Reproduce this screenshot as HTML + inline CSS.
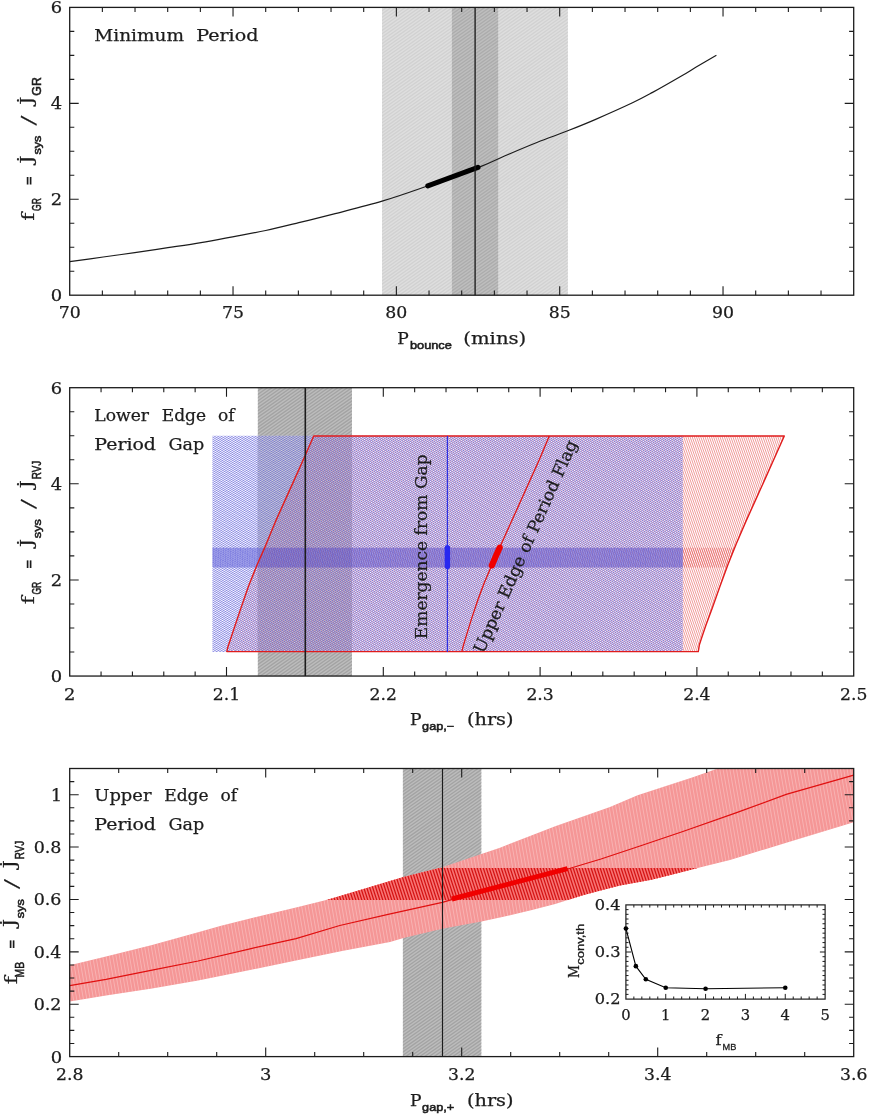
<!DOCTYPE html>
<html lang="en"><head><meta charset="utf-8"><title>Period bounce and period gap constraints</title>
<style>html,body{margin:0;padding:0;background:#fff}body{width:869px;height:1114px;overflow:hidden}svg{display:block}.sf{font-family:"DejaVu Serif", "Liberation Serif", serif;stroke:#1c1c1c;stroke-width:0.25px}.ss{font-family:"Liberation Sans", "DejaVu Sans", sans-serif;stroke:#1c1c1c;stroke-width:0.55px}</style></head><body>
<svg width="869" height="1114" viewBox="0 0 869 1114">
<rect width="869" height="1114" fill="#fff"/>
<rect x="381.99" y="7.4" width="185.87" height="287.8" fill="#dedede"/>
<clipPath id="c1"><rect x="381.99" y="7.4" width="185.87" height="287.8"/></clipPath>
<path clip-path="url(#c1)" d="M246.0 102.7l261.6 -183.2M247.5 104.9l261.6 -183.2M249.0 107.1l261.6 -183.2M250.6 109.3l261.6 -183.2M252.1 111.5l261.6 -183.2M253.7 113.7l261.6 -183.2M255.2 115.9l261.6 -183.2M256.8 118.1l261.6 -183.2M258.3 120.4l261.6 -183.2M259.9 122.6l261.6 -183.2M261.4 124.8l261.6 -183.2M263.0 127.0l261.6 -183.2M264.5 129.2l261.6 -183.2M266.1 131.4l261.6 -183.2M267.6 133.6l261.6 -183.2M269.2 135.8l261.6 -183.2M270.7 138.0l261.6 -183.2M272.3 140.3l261.6 -183.2M273.8 142.5l261.6 -183.2M275.4 144.7l261.6 -183.2M276.9 146.9l261.6 -183.2M278.5 149.1l261.6 -183.2M280.0 151.3l261.6 -183.2M281.6 153.5l261.6 -183.2M283.1 155.7l261.6 -183.2M284.7 157.9l261.6 -183.2M286.2 160.2l261.6 -183.2M287.8 162.4l261.6 -183.2M289.3 164.6l261.6 -183.2M290.9 166.8l261.6 -183.2M292.4 169.0l261.6 -183.2M294.0 171.2l261.6 -183.2M295.5 173.4l261.6 -183.2M297.1 175.6l261.6 -183.2M298.6 177.9l261.6 -183.2M300.2 180.1l261.6 -183.2M301.7 182.3l261.6 -183.2M303.3 184.5l261.6 -183.2M304.8 186.7l261.6 -183.2M306.4 188.9l261.6 -183.2M307.9 191.1l261.6 -183.2M309.4 193.3l261.6 -183.2M311.0 195.5l261.6 -183.2M312.5 197.8l261.6 -183.2M314.1 200.0l261.6 -183.2M315.6 202.2l261.6 -183.2M317.2 204.4l261.6 -183.2M318.7 206.6l261.6 -183.2M320.3 208.8l261.6 -183.2M321.8 211.0l261.6 -183.2M323.4 213.2l261.6 -183.2M324.9 215.5l261.6 -183.2M326.5 217.7l261.6 -183.2M328.0 219.9l261.6 -183.2M329.6 222.1l261.6 -183.2M331.1 224.3l261.6 -183.2M332.7 226.5l261.6 -183.2M334.2 228.7l261.6 -183.2M335.8 230.9l261.6 -183.2M337.3 233.1l261.6 -183.2M338.9 235.4l261.6 -183.2M340.4 237.6l261.6 -183.2M342.0 239.8l261.6 -183.2M343.5 242.0l261.6 -183.2M345.1 244.2l261.6 -183.2M346.6 246.4l261.6 -183.2M348.2 248.6l261.6 -183.2M349.7 250.8l261.6 -183.2M351.3 253.1l261.6 -183.2M352.8 255.3l261.6 -183.2M354.4 257.5l261.6 -183.2M355.9 259.7l261.6 -183.2M357.5 261.9l261.6 -183.2M359.0 264.1l261.6 -183.2M360.6 266.3l261.6 -183.2M362.1 268.5l261.6 -183.2M363.7 270.7l261.6 -183.2M365.2 273.0l261.6 -183.2M366.7 275.2l261.6 -183.2M368.3 277.4l261.6 -183.2M369.8 279.6l261.6 -183.2M371.4 281.8l261.6 -183.2M372.9 284.0l261.6 -183.2M374.5 286.2l261.6 -183.2M376.0 288.4l261.6 -183.2M377.6 290.7l261.6 -183.2M379.1 292.9l261.6 -183.2M380.7 295.1l261.6 -183.2M382.2 297.3l261.6 -183.2M383.8 299.5l261.6 -183.2M385.3 301.7l261.6 -183.2M386.9 303.9l261.6 -183.2M388.4 306.1l261.6 -183.2M390.0 308.3l261.6 -183.2M391.5 310.6l261.6 -183.2M393.1 312.8l261.6 -183.2M394.6 315.0l261.6 -183.2M396.2 317.2l261.6 -183.2M397.7 319.4l261.6 -183.2M399.3 321.6l261.6 -183.2M400.8 323.8l261.6 -183.2M402.4 326.0l261.6 -183.2M403.9 328.3l261.6 -183.2M405.5 330.5l261.6 -183.2M407.0 332.7l261.6 -183.2M408.6 334.9l261.6 -183.2M410.1 337.1l261.6 -183.2M411.7 339.3l261.6 -183.2M413.2 341.5l261.6 -183.2M414.8 343.7l261.6 -183.2M416.3 345.9l261.6 -183.2M417.9 348.2l261.6 -183.2M419.4 350.4l261.6 -183.2M421.0 352.6l261.6 -183.2M422.5 354.8l261.6 -183.2M424.0 357.0l261.6 -183.2M425.6 359.2l261.6 -183.2M427.1 361.4l261.6 -183.2M428.7 363.6l261.6 -183.2M430.2 365.9l261.6 -183.2M431.8 368.1l261.6 -183.2M433.3 370.3l261.6 -183.2M434.9 372.5l261.6 -183.2M436.4 374.7l261.6 -183.2M438.0 376.9l261.6 -183.2M439.5 379.1l261.6 -183.2M441.1 381.3l261.6 -183.2" stroke="#d1d1d1" stroke-width="1.3" stroke-opacity="1" fill="none"/>
<rect x="451.9" y="7.4" width="46.22" height="287.8" fill="#bebebe"/>
<clipPath id="c2"><rect x="451.9" y="7.4" width="46.22" height="287.8"/></clipPath>
<path clip-path="url(#c2)" d="M315.9 102.7l167.9 -117.5M317.4 104.9l167.9 -117.5M319.0 107.1l167.9 -117.5M320.5 109.3l167.9 -117.5M322.1 111.5l167.9 -117.5M323.6 113.7l167.9 -117.5M325.2 115.9l167.9 -117.5M326.7 118.1l167.9 -117.5M328.2 120.4l167.9 -117.5M329.8 122.6l167.9 -117.5M331.3 124.8l167.9 -117.5M332.9 127.0l167.9 -117.5M334.4 129.2l167.9 -117.5M336.0 131.4l167.9 -117.5M337.5 133.6l167.9 -117.5M339.1 135.8l167.9 -117.5M340.6 138.0l167.9 -117.5M342.2 140.3l167.9 -117.5M343.7 142.5l167.9 -117.5M345.3 144.7l167.9 -117.5M346.8 146.9l167.9 -117.5M348.4 149.1l167.9 -117.5M349.9 151.3l167.9 -117.5M351.5 153.5l167.9 -117.5M353.0 155.7l167.9 -117.5M354.6 157.9l167.9 -117.5M356.1 160.2l167.9 -117.5M357.7 162.4l167.9 -117.5M359.2 164.6l167.9 -117.5M360.8 166.8l167.9 -117.5M362.3 169.0l167.9 -117.5M363.9 171.2l167.9 -117.5M365.4 173.4l167.9 -117.5M367.0 175.6l167.9 -117.5M368.5 177.9l167.9 -117.5M370.1 180.1l167.9 -117.5M371.6 182.3l167.9 -117.5M373.2 184.5l167.9 -117.5M374.7 186.7l167.9 -117.5M376.3 188.9l167.9 -117.5M377.8 191.1l167.9 -117.5M379.4 193.3l167.9 -117.5M380.9 195.5l167.9 -117.5M382.5 197.8l167.9 -117.5M384.0 200.0l167.9 -117.5M385.5 202.2l167.9 -117.5M387.1 204.4l167.9 -117.5M388.6 206.6l167.9 -117.5M390.2 208.8l167.9 -117.5M391.7 211.0l167.9 -117.5M393.3 213.2l167.9 -117.5M394.8 215.5l167.9 -117.5M396.4 217.7l167.9 -117.5M397.9 219.9l167.9 -117.5M399.5 222.1l167.9 -117.5M401.0 224.3l167.9 -117.5M402.6 226.5l167.9 -117.5M404.1 228.7l167.9 -117.5M405.7 230.9l167.9 -117.5M407.2 233.1l167.9 -117.5M408.8 235.4l167.9 -117.5M410.3 237.6l167.9 -117.5M411.9 239.8l167.9 -117.5M413.4 242.0l167.9 -117.5M415.0 244.2l167.9 -117.5M416.5 246.4l167.9 -117.5M418.1 248.6l167.9 -117.5M419.6 250.8l167.9 -117.5M421.2 253.1l167.9 -117.5M422.7 255.3l167.9 -117.5M424.3 257.5l167.9 -117.5M425.8 259.7l167.9 -117.5M427.4 261.9l167.9 -117.5M428.9 264.1l167.9 -117.5M430.5 266.3l167.9 -117.5M432.0 268.5l167.9 -117.5M433.6 270.7l167.9 -117.5M435.1 273.0l167.9 -117.5M436.7 275.2l167.9 -117.5M438.2 277.4l167.9 -117.5M439.8 279.6l167.9 -117.5M441.3 281.8l167.9 -117.5M442.8 284.0l167.9 -117.5M444.4 286.2l167.9 -117.5M445.9 288.4l167.9 -117.5M447.5 290.7l167.9 -117.5M449.0 292.9l167.9 -117.5M450.6 295.1l167.9 -117.5M452.1 297.3l167.9 -117.5M453.7 299.5l167.9 -117.5M455.2 301.7l167.9 -117.5M456.8 303.9l167.9 -117.5M458.3 306.1l167.9 -117.5M459.9 308.3l167.9 -117.5M461.4 310.6l167.9 -117.5M463.0 312.8l167.9 -117.5M464.5 315.0l167.9 -117.5M466.1 317.2l167.9 -117.5" stroke="#acacac" stroke-width="1.3" stroke-opacity="1" fill="none"/>
<path d="M69.7 261.6C75.28 260.83 92.35 258.5 103.2 257C114.05 255.5 124.02 254.15 134.8 252.6C145.58 251.05 156.87 249.37 167.9 247.7C178.93 246.03 190.22 244.42 201 242.6C211.78 240.78 221.82 238.82 232.6 236.8C243.38 234.78 254.67 232.85 265.7 230.5C276.73 228.15 287.55 225.43 298.8 222.7C310.05 219.97 319.32 217.68 333.2 214.1C347.08 210.52 366.77 205.75 382.1 201.2C397.43 196.65 408.9 192.52 425.2 186.8C441.5 181.08 465.98 172.33 479.9 166.9C493.82 161.47 499.1 158.32 508.7 154.2C518.3 150.08 527.67 146.1 537.5 142.2C547.33 138.3 558.1 134.57 567.7 130.8C577.3 127.03 584.3 124.27 595.1 119.6C605.9 114.93 622.92 107.33 632.5 102.8C642.08 98.27 644.45 96.87 652.6 92.4C660.75 87.93 674.2 80.18 681.4 76C688.6 71.82 689.97 70.75 695.8 67.3C701.63 63.85 712.97 57.3 716.4 55.3" fill="none" stroke="#1c1c1c" stroke-width="1.2" stroke-linejoin="round"/>
<path d="M427.8 185.9L478 167.4" fill="none" stroke="#000" stroke-width="5" stroke-linecap="round"/>
<line x1="475.1" y1="7.4" x2="475.1" y2="295.2" stroke="#1c1c1c" stroke-width="1.35"/>
<path d="M102.37 295.2v-4.6M102.37 7.4v4.6M135.03 295.2v-4.6M135.03 7.4v4.6M167.7 295.2v-4.6M167.7 7.4v4.6M200.37 295.2v-4.6M200.37 7.4v4.6M233.03 295.2v-9M233.03 7.4v9M265.7 295.2v-4.6M265.7 7.4v4.6M298.37 295.2v-4.6M298.37 7.4v4.6M331.03 295.2v-4.6M331.03 7.4v4.6M363.7 295.2v-4.6M363.7 7.4v4.6M396.37 295.2v-9M396.37 7.4v9M429.03 295.2v-4.6M429.03 7.4v4.6M461.7 295.2v-4.6M461.7 7.4v4.6M494.37 295.2v-4.6M494.37 7.4v4.6M527.03 295.2v-4.6M527.03 7.4v4.6M559.7 295.2v-9M559.7 7.4v9M592.37 295.2v-4.6M592.37 7.4v4.6M625.03 295.2v-4.6M625.03 7.4v4.6M657.7 295.2v-4.6M657.7 7.4v4.6M690.37 295.2v-4.6M690.37 7.4v4.6M723.03 295.2v-9M723.03 7.4v9M755.7 295.2v-4.6M755.7 7.4v4.6M788.37 295.2v-4.6M788.37 7.4v4.6M821.03 295.2v-4.6M821.03 7.4v4.6M69.7 271.22h4.6M853.7 271.22h-4.6M69.7 247.23h4.6M853.7 247.23h-4.6M69.7 223.25h4.6M853.7 223.25h-4.6M69.7 199.27h9M853.7 199.27h-9M69.7 175.28h4.6M853.7 175.28h-4.6M69.7 151.3h4.6M853.7 151.3h-4.6M69.7 127.32h4.6M853.7 127.32h-4.6M69.7 103.33h9M853.7 103.33h-9M69.7 79.35h4.6M853.7 79.35h-4.6M69.7 55.37h4.6M853.7 55.37h-4.6M69.7 31.38h4.6M853.7 31.38h-4.6" stroke="#1c1c1c" stroke-width="1.1" fill="none"/>
<rect x="69.7" y="7.4" width="784" height="287.8" fill="none" stroke="#1c1c1c" stroke-width="1.3"/>
<rect x="257.86" y="387.7" width="94.08" height="288.35" fill="#bcbcbc"/>
<clipPath id="c3"><rect x="257.86" y="387.7" width="94.08" height="288.35"/></clipPath>
<path clip-path="url(#c3)" d="M121.6 483.1l200.2 -140.2M123.1 485.3l200.2 -140.2M124.7 487.6l200.2 -140.2M126.2 489.8l200.2 -140.2M127.8 492.0l200.2 -140.2M129.3 494.2l200.2 -140.2M130.9 496.4l200.2 -140.2M132.4 498.6l200.2 -140.2M133.9 500.8l200.2 -140.2M135.5 503.0l200.2 -140.2M137.0 505.3l200.2 -140.2M138.6 507.5l200.2 -140.2M140.1 509.7l200.2 -140.2M141.7 511.9l200.2 -140.2M143.2 514.1l200.2 -140.2M144.8 516.3l200.2 -140.2M146.3 518.5l200.2 -140.2M147.9 520.7l200.2 -140.2M149.4 522.9l200.2 -140.2M151.0 525.2l200.2 -140.2M152.5 527.4l200.2 -140.2M154.1 529.6l200.2 -140.2M155.6 531.8l200.2 -140.2M157.2 534.0l200.2 -140.2M158.7 536.2l200.2 -140.2M160.3 538.4l200.2 -140.2M161.8 540.6l200.2 -140.2M163.4 542.9l200.2 -140.2M164.9 545.1l200.2 -140.2M166.5 547.3l200.2 -140.2M168.0 549.5l200.2 -140.2M169.6 551.7l200.2 -140.2M171.1 553.9l200.2 -140.2M172.7 556.1l200.2 -140.2M174.2 558.3l200.2 -140.2M175.8 560.5l200.2 -140.2M177.3 562.8l200.2 -140.2M178.9 565.0l200.2 -140.2M180.4 567.2l200.2 -140.2M182.0 569.4l200.2 -140.2M183.5 571.6l200.2 -140.2M185.1 573.8l200.2 -140.2M186.6 576.0l200.2 -140.2M188.2 578.2l200.2 -140.2M189.7 580.5l200.2 -140.2M191.3 582.7l200.2 -140.2M192.8 584.9l200.2 -140.2M194.3 587.1l200.2 -140.2M195.9 589.3l200.2 -140.2M197.4 591.5l200.2 -140.2M199.0 593.7l200.2 -140.2M200.5 595.9l200.2 -140.2M202.1 598.1l200.2 -140.2M203.6 600.4l200.2 -140.2M205.2 602.6l200.2 -140.2M206.7 604.8l200.2 -140.2M208.3 607.0l200.2 -140.2M209.8 609.2l200.2 -140.2M211.4 611.4l200.2 -140.2M212.9 613.6l200.2 -140.2M214.5 615.8l200.2 -140.2M216.0 618.1l200.2 -140.2M217.6 620.3l200.2 -140.2M219.1 622.5l200.2 -140.2M220.7 624.7l200.2 -140.2M222.2 626.9l200.2 -140.2M223.8 629.1l200.2 -140.2M225.3 631.3l200.2 -140.2M226.9 633.5l200.2 -140.2M228.4 635.7l200.2 -140.2M230.0 638.0l200.2 -140.2M231.5 640.2l200.2 -140.2M233.1 642.4l200.2 -140.2M234.6 644.6l200.2 -140.2M236.2 646.8l200.2 -140.2M237.7 649.0l200.2 -140.2M239.3 651.2l200.2 -140.2M240.8 653.4l200.2 -140.2M242.4 655.7l200.2 -140.2M243.9 657.9l200.2 -140.2M245.5 660.1l200.2 -140.2M247.0 662.3l200.2 -140.2M248.6 664.5l200.2 -140.2M250.1 666.7l200.2 -140.2M251.6 668.9l200.2 -140.2M253.2 671.1l200.2 -140.2M254.7 673.3l200.2 -140.2M256.3 675.6l200.2 -140.2M257.8 677.8l200.2 -140.2M259.4 680.0l200.2 -140.2M260.9 682.2l200.2 -140.2M262.5 684.4l200.2 -140.2M264.0 686.6l200.2 -140.2M265.6 688.8l200.2 -140.2M267.1 691.0l200.2 -140.2M268.7 693.3l200.2 -140.2M270.2 695.5l200.2 -140.2M271.8 697.7l200.2 -140.2M273.3 699.9l200.2 -140.2M274.9 702.1l200.2 -140.2M276.4 704.3l200.2 -140.2M278.0 706.5l200.2 -140.2M279.5 708.7l200.2 -140.2M281.1 710.9l200.2 -140.2M282.6 713.2l200.2 -140.2M284.2 715.4l200.2 -140.2M285.7 717.6l200.2 -140.2M287.3 719.8l200.2 -140.2" stroke="#a3a3a3" stroke-width="1.3" stroke-opacity="1" fill="none"/>
<rect x="257.86" y="435.76" width="94.08" height="216.26" fill="#d6d6d6"/>
<clipPath id="c4"><rect x="257.86" y="435.76" width="94.08" height="216.26"/></clipPath>
<path clip-path="url(#c4)" d="M155.4 507.5l166.4 -116.5M157.0 509.7l166.4 -116.5M158.5 511.9l166.4 -116.5M160.1 514.1l166.4 -116.5M161.6 516.3l166.4 -116.5M163.2 518.5l166.4 -116.5M164.7 520.8l166.4 -116.5M166.3 523.0l166.4 -116.5M167.8 525.2l166.4 -116.5M169.4 527.4l166.4 -116.5M170.9 529.6l166.4 -116.5M172.5 531.8l166.4 -116.5M174.0 534.0l166.4 -116.5M175.6 536.2l166.4 -116.5M177.1 538.4l166.4 -116.5M178.7 540.7l166.4 -116.5M180.2 542.9l166.4 -116.5M181.8 545.1l166.4 -116.5M183.3 547.3l166.4 -116.5M184.9 549.5l166.4 -116.5M186.4 551.7l166.4 -116.5M188.0 553.9l166.4 -116.5M189.5 556.1l166.4 -116.5M191.0 558.3l166.4 -116.5M192.6 560.6l166.4 -116.5M194.1 562.8l166.4 -116.5M195.7 565.0l166.4 -116.5M197.2 567.2l166.4 -116.5M198.8 569.4l166.4 -116.5M200.3 571.6l166.4 -116.5M201.9 573.8l166.4 -116.5M203.4 576.0l166.4 -116.5M205.0 578.3l166.4 -116.5M206.5 580.5l166.4 -116.5M208.1 582.7l166.4 -116.5M209.6 584.9l166.4 -116.5M211.2 587.1l166.4 -116.5M212.7 589.3l166.4 -116.5M214.3 591.5l166.4 -116.5M215.8 593.7l166.4 -116.5M217.4 595.9l166.4 -116.5M218.9 598.2l166.4 -116.5M220.5 600.4l166.4 -116.5M222.0 602.6l166.4 -116.5M223.6 604.8l166.4 -116.5M225.1 607.0l166.4 -116.5M226.7 609.2l166.4 -116.5M228.2 611.4l166.4 -116.5M229.8 613.6l166.4 -116.5M231.3 615.9l166.4 -116.5M232.9 618.1l166.4 -116.5M234.4 620.3l166.4 -116.5M236.0 622.5l166.4 -116.5M237.5 624.7l166.4 -116.5M239.1 626.9l166.4 -116.5M240.6 629.1l166.4 -116.5M242.2 631.3l166.4 -116.5M243.7 633.5l166.4 -116.5M245.3 635.8l166.4 -116.5M246.8 638.0l166.4 -116.5M248.4 640.2l166.4 -116.5M249.9 642.4l166.4 -116.5M251.4 644.6l166.4 -116.5M253.0 646.8l166.4 -116.5M254.5 649.0l166.4 -116.5M256.1 651.2l166.4 -116.5M257.6 653.5l166.4 -116.5M259.2 655.7l166.4 -116.5M260.7 657.9l166.4 -116.5M262.3 660.1l166.4 -116.5M263.8 662.3l166.4 -116.5M265.4 664.5l166.4 -116.5M266.9 666.7l166.4 -116.5M268.5 668.9l166.4 -116.5M270.0 671.1l166.4 -116.5M271.6 673.4l166.4 -116.5M273.1 675.6l166.4 -116.5M274.7 677.8l166.4 -116.5M276.2 680.0l166.4 -116.5M277.8 682.2l166.4 -116.5M279.3 684.4l166.4 -116.5M280.9 686.6l166.4 -116.5M282.4 688.8l166.4 -116.5M284.0 691.1l166.4 -116.5M285.5 693.3l166.4 -116.5M287.1 695.5l166.4 -116.5" stroke="#cacaca" stroke-width="1.3" stroke-opacity="1" fill="none"/>
<clipPath id="inbox"><rect x="212.39" y="430" width="470.4" height="230"/></clipPath>
<clipPath id="rightbox"><rect x="682.79" y="430" width="120" height="230"/></clipPath>
<g clip-path="url(#inbox)">
<clipPath id="c5"><polygon points="226.8,651.6 228,646.5 230.1,640.4 234.4,627.5 240.9,608.1 248.4,586.6 257,565 265.6,545.6 275.3,521.9 285,500.4 294.7,478.9 304.4,457.3 313.7,436 784.3,436 774.8,457.3 765.1,478.9 755.4,500.4 745.7,521.9 736.4,543.5 727.8,565 719.9,586.6 712.3,608.1 705.9,625.3 701.5,638.3 699.4,644.7 698.3,651.6"/></clipPath>
<path clip-path="url(#c5)" d="M722.1 260.2l129.9 368.9M720.2 260.9l129.9 368.9M718.3 261.6l129.9 368.9M716.4 262.2l129.9 368.9M714.5 262.9l129.9 368.9M712.6 263.6l129.9 368.9M710.7 264.3l129.9 368.9M708.8 264.9l129.9 368.9M706.9 265.6l129.9 368.9M705.0 266.3l129.9 368.9M703.1 266.9l129.9 368.9M701.1 267.6l129.9 368.9M699.2 268.3l129.9 368.9M697.3 269.0l129.9 368.9M695.4 269.6l129.9 368.9M693.5 270.3l129.9 368.9M691.6 271.0l129.9 368.9M689.7 271.6l129.9 368.9M687.8 272.3l129.9 368.9M685.9 273.0l129.9 368.9M684.0 273.7l129.9 368.9M682.1 274.3l129.9 368.9M680.2 275.0l129.9 368.9M678.3 275.7l129.9 368.9M676.4 276.3l129.9 368.9M674.5 277.0l129.9 368.9M672.6 277.7l129.9 368.9M670.7 278.4l129.9 368.9M668.8 279.0l129.9 368.9M666.8 279.7l129.9 368.9M664.9 280.4l129.9 368.9M663.0 281.0l129.9 368.9M661.1 281.7l129.9 368.9M659.2 282.4l129.9 368.9M657.3 283.0l129.9 368.9M655.4 283.7l129.9 368.9M653.5 284.4l129.9 368.9M651.6 285.1l129.9 368.9M649.7 285.7l129.9 368.9M647.8 286.4l129.9 368.9M645.9 287.1l129.9 368.9M644.0 287.7l129.9 368.9M642.1 288.4l129.9 368.9M640.2 289.1l129.9 368.9M638.3 289.8l129.9 368.9M636.4 290.4l129.9 368.9M634.5 291.1l129.9 368.9M632.6 291.8l129.9 368.9M630.6 292.4l129.9 368.9M628.7 293.1l129.9 368.9M626.8 293.8l129.9 368.9M624.9 294.5l129.9 368.9M623.0 295.1l129.9 368.9M621.1 295.8l129.9 368.9M619.2 296.5l129.9 368.9M617.3 297.1l129.9 368.9M615.4 297.8l129.9 368.9M613.5 298.5l129.9 368.9M611.6 299.2l129.9 368.9M609.7 299.8l129.9 368.9M607.8 300.5l129.9 368.9M605.9 301.2l129.9 368.9M604.0 301.8l129.9 368.9M602.1 302.5l129.9 368.9M600.2 303.2l129.9 368.9M598.3 303.8l129.9 368.9M596.4 304.5l129.9 368.9M594.4 305.2l129.9 368.9M592.5 305.9l129.9 368.9M590.6 306.5l129.9 368.9M588.7 307.2l129.9 368.9M586.8 307.9l129.9 368.9M584.9 308.5l129.9 368.9M583.0 309.2l129.9 368.9M581.1 309.9l129.9 368.9M579.2 310.6l129.9 368.9M577.3 311.2l129.9 368.9M575.4 311.9l129.9 368.9M573.5 312.6l129.9 368.9M571.6 313.2l129.9 368.9M569.7 313.9l129.9 368.9M567.8 314.6l129.9 368.9M565.9 315.3l129.9 368.9M564.0 315.9l129.9 368.9M562.1 316.6l129.9 368.9M560.2 317.3l129.9 368.9M558.2 317.9l129.9 368.9M556.3 318.6l129.9 368.9M554.4 319.3l129.9 368.9M552.5 320.0l129.9 368.9M550.6 320.6l129.9 368.9M548.7 321.3l129.9 368.9M546.8 322.0l129.9 368.9M544.9 322.6l129.9 368.9M543.0 323.3l129.9 368.9M541.1 324.0l129.9 368.9M539.2 324.6l129.9 368.9M537.3 325.3l129.9 368.9M535.4 326.0l129.9 368.9M533.5 326.7l129.9 368.9M531.6 327.3l129.9 368.9M529.7 328.0l129.9 368.9M527.8 328.7l129.9 368.9M525.9 329.3l129.9 368.9M524.0 330.0l129.9 368.9M522.0 330.7l129.9 368.9M520.1 331.4l129.9 368.9M518.2 332.0l129.9 368.9M516.3 332.7l129.9 368.9M514.4 333.4l129.9 368.9M512.5 334.0l129.9 368.9M510.6 334.7l129.9 368.9M508.7 335.4l129.9 368.9M506.8 336.1l129.9 368.9M504.9 336.7l129.9 368.9M503.0 337.4l129.9 368.9M501.1 338.1l129.9 368.9M499.2 338.7l129.9 368.9M497.3 339.4l129.9 368.9M495.4 340.1l129.9 368.9M493.5 340.8l129.9 368.9M491.6 341.4l129.9 368.9M489.7 342.1l129.9 368.9M487.8 342.8l129.9 368.9M485.8 343.4l129.9 368.9M483.9 344.1l129.9 368.9M482.0 344.8l129.9 368.9M480.1 345.4l129.9 368.9M478.2 346.1l129.9 368.9M476.3 346.8l129.9 368.9M474.4 347.5l129.9 368.9M472.5 348.1l129.9 368.9M470.6 348.8l129.9 368.9M468.7 349.5l129.9 368.9M466.8 350.1l129.9 368.9M464.9 350.8l129.9 368.9M463.0 351.5l129.9 368.9M461.1 352.2l129.9 368.9M459.2 352.8l129.9 368.9M457.3 353.5l129.9 368.9M455.4 354.2l129.9 368.9M453.5 354.8l129.9 368.9M451.5 355.5l129.9 368.9M449.6 356.2l129.9 368.9M447.7 356.9l129.9 368.9M445.8 357.5l129.9 368.9M443.9 358.2l129.9 368.9M442.0 358.9l129.9 368.9M440.1 359.5l129.9 368.9M438.2 360.2l129.9 368.9M436.3 360.9l129.9 368.9M434.4 361.6l129.9 368.9M432.5 362.2l129.9 368.9M430.6 362.9l129.9 368.9M428.7 363.6l129.9 368.9M426.8 364.2l129.9 368.9M424.9 364.9l129.9 368.9M423.0 365.6l129.9 368.9M421.1 366.2l129.9 368.9M419.2 366.9l129.9 368.9M417.3 367.6l129.9 368.9M415.3 368.3l129.9 368.9M413.4 368.9l129.9 368.9M411.5 369.6l129.9 368.9M409.6 370.3l129.9 368.9M407.7 370.9l129.9 368.9M405.8 371.6l129.9 368.9M403.9 372.3l129.9 368.9M402.0 373.0l129.9 368.9M400.1 373.6l129.9 368.9M398.2 374.3l129.9 368.9M396.3 375.0l129.9 368.9M394.4 375.6l129.9 368.9M392.5 376.3l129.9 368.9M390.6 377.0l129.9 368.9M388.7 377.7l129.9 368.9M386.8 378.3l129.9 368.9M384.9 379.0l129.9 368.9M383.0 379.7l129.9 368.9M381.1 380.3l129.9 368.9M379.1 381.0l129.9 368.9M377.2 381.7l129.9 368.9M375.3 382.4l129.9 368.9M373.4 383.0l129.9 368.9M371.5 383.7l129.9 368.9M369.6 384.4l129.9 368.9M367.7 385.0l129.9 368.9M365.8 385.7l129.9 368.9M363.9 386.4l129.9 368.9M362.0 387.0l129.9 368.9M360.1 387.7l129.9 368.9M358.2 388.4l129.9 368.9M356.3 389.1l129.9 368.9M354.4 389.7l129.9 368.9M352.5 390.4l129.9 368.9M350.6 391.1l129.9 368.9M348.7 391.7l129.9 368.9M346.8 392.4l129.9 368.9M344.9 393.1l129.9 368.9M342.9 393.8l129.9 368.9M341.0 394.4l129.9 368.9M339.1 395.1l129.9 368.9M337.2 395.8l129.9 368.9M335.3 396.4l129.9 368.9M333.4 397.1l129.9 368.9M331.5 397.8l129.9 368.9M329.6 398.5l129.9 368.9M327.7 399.1l129.9 368.9M325.8 399.8l129.9 368.9M323.9 400.5l129.9 368.9M322.0 401.1l129.9 368.9M320.1 401.8l129.9 368.9M318.2 402.5l129.9 368.9M316.3 403.1l129.9 368.9M314.4 403.8l129.9 368.9M312.5 404.5l129.9 368.9M310.6 405.2l129.9 368.9M308.7 405.8l129.9 368.9M306.7 406.5l129.9 368.9M304.8 407.2l129.9 368.9M302.9 407.8l129.9 368.9M301.0 408.5l129.9 368.9M299.1 409.2l129.9 368.9M297.2 409.9l129.9 368.9M295.3 410.5l129.9 368.9M293.4 411.2l129.9 368.9M291.5 411.9l129.9 368.9M289.6 412.5l129.9 368.9M287.7 413.2l129.9 368.9M285.8 413.9l129.9 368.9M283.9 414.6l129.9 368.9M282.0 415.2l129.9 368.9M280.1 415.9l129.9 368.9M278.2 416.6l129.9 368.9M276.3 417.2l129.9 368.9M274.4 417.9l129.9 368.9M272.5 418.6l129.9 368.9M270.5 419.3l129.9 368.9M268.6 419.9l129.9 368.9M266.7 420.6l129.9 368.9M264.8 421.3l129.9 368.9M262.9 421.9l129.9 368.9M261.0 422.6l129.9 368.9M259.1 423.3l129.9 368.9M257.2 423.9l129.9 368.9M255.3 424.6l129.9 368.9M253.4 425.3l129.9 368.9M251.5 426.0l129.9 368.9M249.6 426.6l129.9 368.9M247.7 427.3l129.9 368.9M245.8 428.0l129.9 368.9M243.9 428.6l129.9 368.9M242.0 429.3l129.9 368.9M240.1 430.0l129.9 368.9M238.2 430.7l129.9 368.9M236.2 431.3l129.9 368.9M234.3 432.0l129.9 368.9M232.4 432.7l129.9 368.9M230.5 433.3l129.9 368.9M228.6 434.0l129.9 368.9M226.7 434.7l129.9 368.9M224.8 435.4l129.9 368.9M222.9 436.0l129.9 368.9M221.0 436.7l129.9 368.9M219.1 437.4l129.9 368.9M217.2 438.0l129.9 368.9M215.3 438.7l129.9 368.9M213.4 439.4l129.9 368.9M211.5 440.1l129.9 368.9M209.6 440.7l129.9 368.9M207.7 441.4l129.9 368.9M205.8 442.1l129.9 368.9M203.9 442.7l129.9 368.9M202.0 443.4l129.9 368.9M200.0 444.1l129.9 368.9M198.1 444.7l129.9 368.9M196.2 445.4l129.9 368.9M194.3 446.1l129.9 368.9M192.4 446.8l129.9 368.9M190.5 447.4l129.9 368.9M188.6 448.1l129.9 368.9M186.7 448.8l129.9 368.9M184.8 449.4l129.9 368.9M182.9 450.1l129.9 368.9M181.0 450.8l129.9 368.9M179.1 451.5l129.9 368.9M177.2 452.1l129.9 368.9M175.3 452.8l129.9 368.9M173.4 453.5l129.9 368.9M171.5 454.1l129.9 368.9M169.6 454.8l129.9 368.9M167.7 455.5l129.9 368.9M165.8 456.2l129.9 368.9M163.8 456.8l129.9 368.9M161.9 457.5l129.9 368.9M160.0 458.2l129.9 368.9M158.1 458.8l129.9 368.9" stroke="#e03434" stroke-width="0.5" stroke-opacity="0.65" fill="none"/>
<g clip-path="url(#c5)">
<clipPath id="c6"><rect x="226" y="547.73" width="558" height="19.7"/></clipPath>
<path clip-path="url(#c6)" d="M721.2 372.3l68.4 194.2M719.3 373.0l68.4 194.2M717.3 373.6l68.4 194.2M715.4 374.3l68.4 194.2M713.5 375.0l68.4 194.2M711.6 375.7l68.4 194.2M709.7 376.3l68.4 194.2M707.8 377.0l68.4 194.2M705.9 377.7l68.4 194.2M704.0 378.3l68.4 194.2M702.1 379.0l68.4 194.2M700.2 379.7l68.4 194.2M698.3 380.4l68.4 194.2M696.4 381.0l68.4 194.2M694.5 381.7l68.4 194.2M692.6 382.4l68.4 194.2M690.7 383.0l68.4 194.2M688.8 383.7l68.4 194.2M686.9 384.4l68.4 194.2M685.0 385.0l68.4 194.2M683.1 385.7l68.4 194.2M681.1 386.4l68.4 194.2M679.2 387.1l68.4 194.2M677.3 387.7l68.4 194.2M675.4 388.4l68.4 194.2M673.5 389.1l68.4 194.2M671.6 389.7l68.4 194.2M669.7 390.4l68.4 194.2M667.8 391.1l68.4 194.2M665.9 391.8l68.4 194.2M664.0 392.4l68.4 194.2M662.1 393.1l68.4 194.2M660.2 393.8l68.4 194.2M658.3 394.4l68.4 194.2M656.4 395.1l68.4 194.2M654.5 395.8l68.4 194.2M652.6 396.5l68.4 194.2M650.7 397.1l68.4 194.2M648.8 397.8l68.4 194.2M646.9 398.5l68.4 194.2M644.9 399.1l68.4 194.2M643.0 399.8l68.4 194.2M641.1 400.5l68.4 194.2M639.2 401.2l68.4 194.2M637.3 401.8l68.4 194.2M635.4 402.5l68.4 194.2M633.5 403.2l68.4 194.2M631.6 403.8l68.4 194.2M629.7 404.5l68.4 194.2M627.8 405.2l68.4 194.2M625.9 405.8l68.4 194.2M624.0 406.5l68.4 194.2M622.1 407.2l68.4 194.2M620.2 407.9l68.4 194.2M618.3 408.5l68.4 194.2M616.4 409.2l68.4 194.2M614.5 409.9l68.4 194.2M612.6 410.5l68.4 194.2M610.7 411.2l68.4 194.2M608.7 411.9l68.4 194.2M606.8 412.6l68.4 194.2M604.9 413.2l68.4 194.2M603.0 413.9l68.4 194.2M601.1 414.6l68.4 194.2M599.2 415.2l68.4 194.2M597.3 415.9l68.4 194.2M595.4 416.6l68.4 194.2M593.5 417.3l68.4 194.2M591.6 417.9l68.4 194.2M589.7 418.6l68.4 194.2M587.8 419.3l68.4 194.2M585.9 419.9l68.4 194.2M584.0 420.6l68.4 194.2M582.1 421.3l68.4 194.2M580.2 422.0l68.4 194.2M578.3 422.6l68.4 194.2M576.4 423.3l68.4 194.2M574.5 424.0l68.4 194.2M572.5 424.6l68.4 194.2M570.6 425.3l68.4 194.2M568.7 426.0l68.4 194.2M566.8 426.6l68.4 194.2M564.9 427.3l68.4 194.2M563.0 428.0l68.4 194.2M561.1 428.7l68.4 194.2M559.2 429.3l68.4 194.2M557.3 430.0l68.4 194.2M555.4 430.7l68.4 194.2M553.5 431.3l68.4 194.2M551.6 432.0l68.4 194.2M549.7 432.7l68.4 194.2M547.8 433.4l68.4 194.2M545.9 434.0l68.4 194.2M544.0 434.7l68.4 194.2M542.1 435.4l68.4 194.2M540.2 436.0l68.4 194.2M538.3 436.7l68.4 194.2M536.3 437.4l68.4 194.2M534.4 438.1l68.4 194.2M532.5 438.7l68.4 194.2M530.6 439.4l68.4 194.2M528.7 440.1l68.4 194.2M526.8 440.7l68.4 194.2M524.9 441.4l68.4 194.2M523.0 442.1l68.4 194.2M521.1 442.8l68.4 194.2M519.2 443.4l68.4 194.2M517.3 444.1l68.4 194.2M515.4 444.8l68.4 194.2M513.5 445.4l68.4 194.2M511.6 446.1l68.4 194.2M509.7 446.8l68.4 194.2M507.8 447.4l68.4 194.2M505.9 448.1l68.4 194.2M504.0 448.8l68.4 194.2M502.0 449.5l68.4 194.2M500.1 450.1l68.4 194.2M498.2 450.8l68.4 194.2M496.3 451.5l68.4 194.2M494.4 452.1l68.4 194.2M492.5 452.8l68.4 194.2M490.6 453.5l68.4 194.2M488.7 454.2l68.4 194.2M486.8 454.8l68.4 194.2M484.9 455.5l68.4 194.2M483.0 456.2l68.4 194.2M481.1 456.8l68.4 194.2M479.2 457.5l68.4 194.2M477.3 458.2l68.4 194.2M475.4 458.9l68.4 194.2M473.5 459.5l68.4 194.2M471.6 460.2l68.4 194.2M469.7 460.9l68.4 194.2M467.8 461.5l68.4 194.2M465.8 462.2l68.4 194.2M463.9 462.9l68.4 194.2M462.0 463.6l68.4 194.2M460.1 464.2l68.4 194.2M458.2 464.9l68.4 194.2M456.3 465.6l68.4 194.2M454.4 466.2l68.4 194.2M452.5 466.9l68.4 194.2M450.6 467.6l68.4 194.2M448.7 468.2l68.4 194.2M446.8 468.9l68.4 194.2M444.9 469.6l68.4 194.2M443.0 470.3l68.4 194.2M441.1 470.9l68.4 194.2M439.2 471.6l68.4 194.2M437.3 472.3l68.4 194.2M435.4 472.9l68.4 194.2M433.5 473.6l68.4 194.2M431.6 474.3l68.4 194.2M429.6 475.0l68.4 194.2M427.7 475.6l68.4 194.2M425.8 476.3l68.4 194.2M423.9 477.0l68.4 194.2M422.0 477.6l68.4 194.2M420.1 478.3l68.4 194.2M418.2 479.0l68.4 194.2M416.3 479.7l68.4 194.2M414.4 480.3l68.4 194.2M412.5 481.0l68.4 194.2M410.6 481.7l68.4 194.2M408.7 482.3l68.4 194.2M406.8 483.0l68.4 194.2M404.9 483.7l68.4 194.2M403.0 484.4l68.4 194.2M401.1 485.0l68.4 194.2M399.2 485.7l68.4 194.2M397.3 486.4l68.4 194.2M395.4 487.0l68.4 194.2M393.4 487.7l68.4 194.2M391.5 488.4l68.4 194.2M389.6 489.0l68.4 194.2M387.7 489.7l68.4 194.2M385.8 490.4l68.4 194.2M383.9 491.1l68.4 194.2M382.0 491.7l68.4 194.2M380.1 492.4l68.4 194.2M378.2 493.1l68.4 194.2M376.3 493.7l68.4 194.2M374.4 494.4l68.4 194.2M372.5 495.1l68.4 194.2M370.6 495.8l68.4 194.2M368.7 496.4l68.4 194.2M366.8 497.1l68.4 194.2M364.9 497.8l68.4 194.2M363.0 498.4l68.4 194.2M361.1 499.1l68.4 194.2M359.2 499.8l68.4 194.2M357.2 500.5l68.4 194.2M355.3 501.1l68.4 194.2M353.4 501.8l68.4 194.2M351.5 502.5l68.4 194.2M349.6 503.1l68.4 194.2M347.7 503.8l68.4 194.2M345.8 504.5l68.4 194.2M343.9 505.2l68.4 194.2M342.0 505.8l68.4 194.2M340.1 506.5l68.4 194.2M338.2 507.2l68.4 194.2M336.3 507.8l68.4 194.2M334.4 508.5l68.4 194.2M332.5 509.2l68.4 194.2M330.6 509.8l68.4 194.2M328.7 510.5l68.4 194.2M326.8 511.2l68.4 194.2M324.9 511.9l68.4 194.2M323.0 512.5l68.4 194.2M321.0 513.2l68.4 194.2M319.1 513.9l68.4 194.2M317.2 514.5l68.4 194.2M315.3 515.2l68.4 194.2M313.4 515.9l68.4 194.2M311.5 516.6l68.4 194.2M309.6 517.2l68.4 194.2M307.7 517.9l68.4 194.2M305.8 518.6l68.4 194.2M303.9 519.2l68.4 194.2M302.0 519.9l68.4 194.2M300.1 520.6l68.4 194.2M298.2 521.3l68.4 194.2M296.3 521.9l68.4 194.2M294.4 522.6l68.4 194.2M292.5 523.3l68.4 194.2M290.6 523.9l68.4 194.2M288.7 524.6l68.4 194.2M286.7 525.3l68.4 194.2M284.8 526.0l68.4 194.2M282.9 526.6l68.4 194.2M281.0 527.3l68.4 194.2M279.1 528.0l68.4 194.2M277.2 528.6l68.4 194.2M275.3 529.3l68.4 194.2M273.4 530.0l68.4 194.2M271.5 530.6l68.4 194.2M269.6 531.3l68.4 194.2M267.7 532.0l68.4 194.2M265.8 532.7l68.4 194.2M263.9 533.3l68.4 194.2M262.0 534.0l68.4 194.2M260.1 534.7l68.4 194.2M258.2 535.3l68.4 194.2M256.3 536.0l68.4 194.2M254.4 536.7l68.4 194.2M252.5 537.4l68.4 194.2M250.5 538.0l68.4 194.2M248.6 538.7l68.4 194.2M246.7 539.4l68.4 194.2M244.8 540.0l68.4 194.2M242.9 540.7l68.4 194.2M241.0 541.4l68.4 194.2M239.1 542.1l68.4 194.2M237.2 542.7l68.4 194.2M235.3 543.4l68.4 194.2M233.4 544.1l68.4 194.2M231.5 544.7l68.4 194.2M229.6 545.4l68.4 194.2M227.7 546.1l68.4 194.2M225.8 546.8l68.4 194.2M223.9 547.4l68.4 194.2M222.0 548.1l68.4 194.2M220.1 548.8l68.4 194.2" stroke="#e03434" stroke-width="0.45" stroke-opacity="0.65" fill="none"/>
</g></g>
<g clip-path="url(#rightbox)">
<clipPath id="c7"><polygon points="226.8,651.6 228,646.5 230.1,640.4 234.4,627.5 240.9,608.1 248.4,586.6 257,565 265.6,545.6 275.3,521.9 285,500.4 294.7,478.9 304.4,457.3 313.7,436 784.3,436 774.8,457.3 765.1,478.9 755.4,500.4 745.7,521.9 736.4,543.5 727.8,565 719.9,586.6 712.3,608.1 705.9,625.3 701.5,638.3 699.4,644.7 698.3,651.6"/></clipPath>
<path clip-path="url(#c7)" d="M722.1 260.2l129.9 368.9M720.2 260.9l129.9 368.9M718.3 261.6l129.9 368.9M716.4 262.2l129.9 368.9M714.5 262.9l129.9 368.9M712.6 263.6l129.9 368.9M710.7 264.3l129.9 368.9M708.8 264.9l129.9 368.9M706.9 265.6l129.9 368.9M705.0 266.3l129.9 368.9M703.1 266.9l129.9 368.9M701.1 267.6l129.9 368.9M699.2 268.3l129.9 368.9M697.3 269.0l129.9 368.9M695.4 269.6l129.9 368.9M693.5 270.3l129.9 368.9M691.6 271.0l129.9 368.9M689.7 271.6l129.9 368.9M687.8 272.3l129.9 368.9M685.9 273.0l129.9 368.9M684.0 273.7l129.9 368.9M682.1 274.3l129.9 368.9M680.2 275.0l129.9 368.9M678.3 275.7l129.9 368.9M676.4 276.3l129.9 368.9M674.5 277.0l129.9 368.9M672.6 277.7l129.9 368.9M670.7 278.4l129.9 368.9M668.8 279.0l129.9 368.9M666.8 279.7l129.9 368.9M664.9 280.4l129.9 368.9M663.0 281.0l129.9 368.9M661.1 281.7l129.9 368.9M659.2 282.4l129.9 368.9M657.3 283.0l129.9 368.9M655.4 283.7l129.9 368.9M653.5 284.4l129.9 368.9M651.6 285.1l129.9 368.9M649.7 285.7l129.9 368.9M647.8 286.4l129.9 368.9M645.9 287.1l129.9 368.9M644.0 287.7l129.9 368.9M642.1 288.4l129.9 368.9M640.2 289.1l129.9 368.9M638.3 289.8l129.9 368.9M636.4 290.4l129.9 368.9M634.5 291.1l129.9 368.9M632.6 291.8l129.9 368.9M630.6 292.4l129.9 368.9M628.7 293.1l129.9 368.9M626.8 293.8l129.9 368.9M624.9 294.5l129.9 368.9M623.0 295.1l129.9 368.9M621.1 295.8l129.9 368.9M619.2 296.5l129.9 368.9M617.3 297.1l129.9 368.9M615.4 297.8l129.9 368.9M613.5 298.5l129.9 368.9M611.6 299.2l129.9 368.9M609.7 299.8l129.9 368.9M607.8 300.5l129.9 368.9M605.9 301.2l129.9 368.9M604.0 301.8l129.9 368.9M602.1 302.5l129.9 368.9M600.2 303.2l129.9 368.9M598.3 303.8l129.9 368.9M596.4 304.5l129.9 368.9M594.4 305.2l129.9 368.9M592.5 305.9l129.9 368.9M590.6 306.5l129.9 368.9M588.7 307.2l129.9 368.9M586.8 307.9l129.9 368.9M584.9 308.5l129.9 368.9M583.0 309.2l129.9 368.9M581.1 309.9l129.9 368.9M579.2 310.6l129.9 368.9M577.3 311.2l129.9 368.9M575.4 311.9l129.9 368.9M573.5 312.6l129.9 368.9M571.6 313.2l129.9 368.9M569.7 313.9l129.9 368.9M567.8 314.6l129.9 368.9M565.9 315.3l129.9 368.9M564.0 315.9l129.9 368.9M562.1 316.6l129.9 368.9M560.2 317.3l129.9 368.9M558.2 317.9l129.9 368.9M556.3 318.6l129.9 368.9M554.4 319.3l129.9 368.9M552.5 320.0l129.9 368.9M550.6 320.6l129.9 368.9M548.7 321.3l129.9 368.9M546.8 322.0l129.9 368.9M544.9 322.6l129.9 368.9M543.0 323.3l129.9 368.9M541.1 324.0l129.9 368.9M539.2 324.6l129.9 368.9M537.3 325.3l129.9 368.9M535.4 326.0l129.9 368.9M533.5 326.7l129.9 368.9M531.6 327.3l129.9 368.9M529.7 328.0l129.9 368.9M527.8 328.7l129.9 368.9M525.9 329.3l129.9 368.9M524.0 330.0l129.9 368.9M522.0 330.7l129.9 368.9M520.1 331.4l129.9 368.9M518.2 332.0l129.9 368.9M516.3 332.7l129.9 368.9M514.4 333.4l129.9 368.9M512.5 334.0l129.9 368.9M510.6 334.7l129.9 368.9M508.7 335.4l129.9 368.9M506.8 336.1l129.9 368.9M504.9 336.7l129.9 368.9M503.0 337.4l129.9 368.9M501.1 338.1l129.9 368.9M499.2 338.7l129.9 368.9M497.3 339.4l129.9 368.9M495.4 340.1l129.9 368.9M493.5 340.8l129.9 368.9M491.6 341.4l129.9 368.9M489.7 342.1l129.9 368.9M487.8 342.8l129.9 368.9M485.8 343.4l129.9 368.9M483.9 344.1l129.9 368.9M482.0 344.8l129.9 368.9M480.1 345.4l129.9 368.9M478.2 346.1l129.9 368.9M476.3 346.8l129.9 368.9M474.4 347.5l129.9 368.9M472.5 348.1l129.9 368.9M470.6 348.8l129.9 368.9M468.7 349.5l129.9 368.9M466.8 350.1l129.9 368.9M464.9 350.8l129.9 368.9M463.0 351.5l129.9 368.9M461.1 352.2l129.9 368.9M459.2 352.8l129.9 368.9M457.3 353.5l129.9 368.9M455.4 354.2l129.9 368.9M453.5 354.8l129.9 368.9M451.5 355.5l129.9 368.9M449.6 356.2l129.9 368.9M447.7 356.9l129.9 368.9M445.8 357.5l129.9 368.9M443.9 358.2l129.9 368.9M442.0 358.9l129.9 368.9M440.1 359.5l129.9 368.9M438.2 360.2l129.9 368.9M436.3 360.9l129.9 368.9M434.4 361.6l129.9 368.9M432.5 362.2l129.9 368.9M430.6 362.9l129.9 368.9M428.7 363.6l129.9 368.9M426.8 364.2l129.9 368.9M424.9 364.9l129.9 368.9M423.0 365.6l129.9 368.9M421.1 366.2l129.9 368.9M419.2 366.9l129.9 368.9M417.3 367.6l129.9 368.9M415.3 368.3l129.9 368.9M413.4 368.9l129.9 368.9M411.5 369.6l129.9 368.9M409.6 370.3l129.9 368.9M407.7 370.9l129.9 368.9M405.8 371.6l129.9 368.9M403.9 372.3l129.9 368.9M402.0 373.0l129.9 368.9M400.1 373.6l129.9 368.9M398.2 374.3l129.9 368.9M396.3 375.0l129.9 368.9M394.4 375.6l129.9 368.9M392.5 376.3l129.9 368.9M390.6 377.0l129.9 368.9M388.7 377.7l129.9 368.9M386.8 378.3l129.9 368.9M384.9 379.0l129.9 368.9M383.0 379.7l129.9 368.9M381.1 380.3l129.9 368.9M379.1 381.0l129.9 368.9M377.2 381.7l129.9 368.9M375.3 382.4l129.9 368.9M373.4 383.0l129.9 368.9M371.5 383.7l129.9 368.9M369.6 384.4l129.9 368.9M367.7 385.0l129.9 368.9M365.8 385.7l129.9 368.9M363.9 386.4l129.9 368.9M362.0 387.0l129.9 368.9M360.1 387.7l129.9 368.9M358.2 388.4l129.9 368.9M356.3 389.1l129.9 368.9M354.4 389.7l129.9 368.9M352.5 390.4l129.9 368.9M350.6 391.1l129.9 368.9M348.7 391.7l129.9 368.9M346.8 392.4l129.9 368.9M344.9 393.1l129.9 368.9M342.9 393.8l129.9 368.9M341.0 394.4l129.9 368.9M339.1 395.1l129.9 368.9M337.2 395.8l129.9 368.9M335.3 396.4l129.9 368.9M333.4 397.1l129.9 368.9M331.5 397.8l129.9 368.9M329.6 398.5l129.9 368.9M327.7 399.1l129.9 368.9M325.8 399.8l129.9 368.9M323.9 400.5l129.9 368.9M322.0 401.1l129.9 368.9M320.1 401.8l129.9 368.9M318.2 402.5l129.9 368.9M316.3 403.1l129.9 368.9M314.4 403.8l129.9 368.9M312.5 404.5l129.9 368.9M310.6 405.2l129.9 368.9M308.7 405.8l129.9 368.9M306.7 406.5l129.9 368.9M304.8 407.2l129.9 368.9M302.9 407.8l129.9 368.9M301.0 408.5l129.9 368.9M299.1 409.2l129.9 368.9M297.2 409.9l129.9 368.9M295.3 410.5l129.9 368.9M293.4 411.2l129.9 368.9M291.5 411.9l129.9 368.9M289.6 412.5l129.9 368.9M287.7 413.2l129.9 368.9M285.8 413.9l129.9 368.9M283.9 414.6l129.9 368.9M282.0 415.2l129.9 368.9M280.1 415.9l129.9 368.9M278.2 416.6l129.9 368.9M276.3 417.2l129.9 368.9M274.4 417.9l129.9 368.9M272.5 418.6l129.9 368.9M270.5 419.3l129.9 368.9M268.6 419.9l129.9 368.9M266.7 420.6l129.9 368.9M264.8 421.3l129.9 368.9M262.9 421.9l129.9 368.9M261.0 422.6l129.9 368.9M259.1 423.3l129.9 368.9M257.2 423.9l129.9 368.9M255.3 424.6l129.9 368.9M253.4 425.3l129.9 368.9M251.5 426.0l129.9 368.9M249.6 426.6l129.9 368.9M247.7 427.3l129.9 368.9M245.8 428.0l129.9 368.9M243.9 428.6l129.9 368.9M242.0 429.3l129.9 368.9M240.1 430.0l129.9 368.9M238.2 430.7l129.9 368.9M236.2 431.3l129.9 368.9M234.3 432.0l129.9 368.9M232.4 432.7l129.9 368.9M230.5 433.3l129.9 368.9M228.6 434.0l129.9 368.9M226.7 434.7l129.9 368.9M224.8 435.4l129.9 368.9M222.9 436.0l129.9 368.9M221.0 436.7l129.9 368.9M219.1 437.4l129.9 368.9M217.2 438.0l129.9 368.9M215.3 438.7l129.9 368.9M213.4 439.4l129.9 368.9M211.5 440.1l129.9 368.9M209.6 440.7l129.9 368.9M207.7 441.4l129.9 368.9M205.8 442.1l129.9 368.9M203.9 442.7l129.9 368.9M202.0 443.4l129.9 368.9M200.0 444.1l129.9 368.9M198.1 444.7l129.9 368.9M196.2 445.4l129.9 368.9M194.3 446.1l129.9 368.9M192.4 446.8l129.9 368.9M190.5 447.4l129.9 368.9M188.6 448.1l129.9 368.9M186.7 448.8l129.9 368.9M184.8 449.4l129.9 368.9M182.9 450.1l129.9 368.9M181.0 450.8l129.9 368.9M179.1 451.5l129.9 368.9M177.2 452.1l129.9 368.9M175.3 452.8l129.9 368.9M173.4 453.5l129.9 368.9M171.5 454.1l129.9 368.9M169.6 454.8l129.9 368.9M167.7 455.5l129.9 368.9M165.8 456.2l129.9 368.9M163.8 456.8l129.9 368.9M161.9 457.5l129.9 368.9M160.0 458.2l129.9 368.9M158.1 458.8l129.9 368.9" stroke="#e03434" stroke-width="0.5" stroke-opacity="1" fill="none"/>
<g clip-path="url(#c7)">
<clipPath id="c8"><rect x="226" y="547.73" width="558" height="19.7"/></clipPath>
<path clip-path="url(#c8)" d="M721.2 372.3l68.4 194.2M719.3 373.0l68.4 194.2M717.3 373.6l68.4 194.2M715.4 374.3l68.4 194.2M713.5 375.0l68.4 194.2M711.6 375.7l68.4 194.2M709.7 376.3l68.4 194.2M707.8 377.0l68.4 194.2M705.9 377.7l68.4 194.2M704.0 378.3l68.4 194.2M702.1 379.0l68.4 194.2M700.2 379.7l68.4 194.2M698.3 380.4l68.4 194.2M696.4 381.0l68.4 194.2M694.5 381.7l68.4 194.2M692.6 382.4l68.4 194.2M690.7 383.0l68.4 194.2M688.8 383.7l68.4 194.2M686.9 384.4l68.4 194.2M685.0 385.0l68.4 194.2M683.1 385.7l68.4 194.2M681.1 386.4l68.4 194.2M679.2 387.1l68.4 194.2M677.3 387.7l68.4 194.2M675.4 388.4l68.4 194.2M673.5 389.1l68.4 194.2M671.6 389.7l68.4 194.2M669.7 390.4l68.4 194.2M667.8 391.1l68.4 194.2M665.9 391.8l68.4 194.2M664.0 392.4l68.4 194.2M662.1 393.1l68.4 194.2M660.2 393.8l68.4 194.2M658.3 394.4l68.4 194.2M656.4 395.1l68.4 194.2M654.5 395.8l68.4 194.2M652.6 396.5l68.4 194.2M650.7 397.1l68.4 194.2M648.8 397.8l68.4 194.2M646.9 398.5l68.4 194.2M644.9 399.1l68.4 194.2M643.0 399.8l68.4 194.2M641.1 400.5l68.4 194.2M639.2 401.2l68.4 194.2M637.3 401.8l68.4 194.2M635.4 402.5l68.4 194.2M633.5 403.2l68.4 194.2M631.6 403.8l68.4 194.2M629.7 404.5l68.4 194.2M627.8 405.2l68.4 194.2M625.9 405.8l68.4 194.2M624.0 406.5l68.4 194.2M622.1 407.2l68.4 194.2M620.2 407.9l68.4 194.2M618.3 408.5l68.4 194.2M616.4 409.2l68.4 194.2M614.5 409.9l68.4 194.2M612.6 410.5l68.4 194.2M610.7 411.2l68.4 194.2M608.7 411.9l68.4 194.2M606.8 412.6l68.4 194.2M604.9 413.2l68.4 194.2M603.0 413.9l68.4 194.2M601.1 414.6l68.4 194.2M599.2 415.2l68.4 194.2M597.3 415.9l68.4 194.2M595.4 416.6l68.4 194.2M593.5 417.3l68.4 194.2M591.6 417.9l68.4 194.2M589.7 418.6l68.4 194.2M587.8 419.3l68.4 194.2M585.9 419.9l68.4 194.2M584.0 420.6l68.4 194.2M582.1 421.3l68.4 194.2M580.2 422.0l68.4 194.2M578.3 422.6l68.4 194.2M576.4 423.3l68.4 194.2M574.5 424.0l68.4 194.2M572.5 424.6l68.4 194.2M570.6 425.3l68.4 194.2M568.7 426.0l68.4 194.2M566.8 426.6l68.4 194.2M564.9 427.3l68.4 194.2M563.0 428.0l68.4 194.2M561.1 428.7l68.4 194.2M559.2 429.3l68.4 194.2M557.3 430.0l68.4 194.2M555.4 430.7l68.4 194.2M553.5 431.3l68.4 194.2M551.6 432.0l68.4 194.2M549.7 432.7l68.4 194.2M547.8 433.4l68.4 194.2M545.9 434.0l68.4 194.2M544.0 434.7l68.4 194.2M542.1 435.4l68.4 194.2M540.2 436.0l68.4 194.2M538.3 436.7l68.4 194.2M536.3 437.4l68.4 194.2M534.4 438.1l68.4 194.2M532.5 438.7l68.4 194.2M530.6 439.4l68.4 194.2M528.7 440.1l68.4 194.2M526.8 440.7l68.4 194.2M524.9 441.4l68.4 194.2M523.0 442.1l68.4 194.2M521.1 442.8l68.4 194.2M519.2 443.4l68.4 194.2M517.3 444.1l68.4 194.2M515.4 444.8l68.4 194.2M513.5 445.4l68.4 194.2M511.6 446.1l68.4 194.2M509.7 446.8l68.4 194.2M507.8 447.4l68.4 194.2M505.9 448.1l68.4 194.2M504.0 448.8l68.4 194.2M502.0 449.5l68.4 194.2M500.1 450.1l68.4 194.2M498.2 450.8l68.4 194.2M496.3 451.5l68.4 194.2M494.4 452.1l68.4 194.2M492.5 452.8l68.4 194.2M490.6 453.5l68.4 194.2M488.7 454.2l68.4 194.2M486.8 454.8l68.4 194.2M484.9 455.5l68.4 194.2M483.0 456.2l68.4 194.2M481.1 456.8l68.4 194.2M479.2 457.5l68.4 194.2M477.3 458.2l68.4 194.2M475.4 458.9l68.4 194.2M473.5 459.5l68.4 194.2M471.6 460.2l68.4 194.2M469.7 460.9l68.4 194.2M467.8 461.5l68.4 194.2M465.8 462.2l68.4 194.2M463.9 462.9l68.4 194.2M462.0 463.6l68.4 194.2M460.1 464.2l68.4 194.2M458.2 464.9l68.4 194.2M456.3 465.6l68.4 194.2M454.4 466.2l68.4 194.2M452.5 466.9l68.4 194.2M450.6 467.6l68.4 194.2M448.7 468.2l68.4 194.2M446.8 468.9l68.4 194.2M444.9 469.6l68.4 194.2M443.0 470.3l68.4 194.2M441.1 470.9l68.4 194.2M439.2 471.6l68.4 194.2M437.3 472.3l68.4 194.2M435.4 472.9l68.4 194.2M433.5 473.6l68.4 194.2M431.6 474.3l68.4 194.2M429.6 475.0l68.4 194.2M427.7 475.6l68.4 194.2M425.8 476.3l68.4 194.2M423.9 477.0l68.4 194.2M422.0 477.6l68.4 194.2M420.1 478.3l68.4 194.2M418.2 479.0l68.4 194.2M416.3 479.7l68.4 194.2M414.4 480.3l68.4 194.2M412.5 481.0l68.4 194.2M410.6 481.7l68.4 194.2M408.7 482.3l68.4 194.2M406.8 483.0l68.4 194.2M404.9 483.7l68.4 194.2M403.0 484.4l68.4 194.2M401.1 485.0l68.4 194.2M399.2 485.7l68.4 194.2M397.3 486.4l68.4 194.2M395.4 487.0l68.4 194.2M393.4 487.7l68.4 194.2M391.5 488.4l68.4 194.2M389.6 489.0l68.4 194.2M387.7 489.7l68.4 194.2M385.8 490.4l68.4 194.2M383.9 491.1l68.4 194.2M382.0 491.7l68.4 194.2M380.1 492.4l68.4 194.2M378.2 493.1l68.4 194.2M376.3 493.7l68.4 194.2M374.4 494.4l68.4 194.2M372.5 495.1l68.4 194.2M370.6 495.8l68.4 194.2M368.7 496.4l68.4 194.2M366.8 497.1l68.4 194.2M364.9 497.8l68.4 194.2M363.0 498.4l68.4 194.2M361.1 499.1l68.4 194.2M359.2 499.8l68.4 194.2M357.2 500.5l68.4 194.2M355.3 501.1l68.4 194.2M353.4 501.8l68.4 194.2M351.5 502.5l68.4 194.2M349.6 503.1l68.4 194.2M347.7 503.8l68.4 194.2M345.8 504.5l68.4 194.2M343.9 505.2l68.4 194.2M342.0 505.8l68.4 194.2M340.1 506.5l68.4 194.2M338.2 507.2l68.4 194.2M336.3 507.8l68.4 194.2M334.4 508.5l68.4 194.2M332.5 509.2l68.4 194.2M330.6 509.8l68.4 194.2M328.7 510.5l68.4 194.2M326.8 511.2l68.4 194.2M324.9 511.9l68.4 194.2M323.0 512.5l68.4 194.2M321.0 513.2l68.4 194.2M319.1 513.9l68.4 194.2M317.2 514.5l68.4 194.2M315.3 515.2l68.4 194.2M313.4 515.9l68.4 194.2M311.5 516.6l68.4 194.2M309.6 517.2l68.4 194.2M307.7 517.9l68.4 194.2M305.8 518.6l68.4 194.2M303.9 519.2l68.4 194.2M302.0 519.9l68.4 194.2M300.1 520.6l68.4 194.2M298.2 521.3l68.4 194.2M296.3 521.9l68.4 194.2M294.4 522.6l68.4 194.2M292.5 523.3l68.4 194.2M290.6 523.9l68.4 194.2M288.7 524.6l68.4 194.2M286.7 525.3l68.4 194.2M284.8 526.0l68.4 194.2M282.9 526.6l68.4 194.2M281.0 527.3l68.4 194.2M279.1 528.0l68.4 194.2M277.2 528.6l68.4 194.2M275.3 529.3l68.4 194.2M273.4 530.0l68.4 194.2M271.5 530.6l68.4 194.2M269.6 531.3l68.4 194.2M267.7 532.0l68.4 194.2M265.8 532.7l68.4 194.2M263.9 533.3l68.4 194.2M262.0 534.0l68.4 194.2M260.1 534.7l68.4 194.2M258.2 535.3l68.4 194.2M256.3 536.0l68.4 194.2M254.4 536.7l68.4 194.2M252.5 537.4l68.4 194.2M250.5 538.0l68.4 194.2M248.6 538.7l68.4 194.2M246.7 539.4l68.4 194.2M244.8 540.0l68.4 194.2M242.9 540.7l68.4 194.2M241.0 541.4l68.4 194.2M239.1 542.1l68.4 194.2M237.2 542.7l68.4 194.2M235.3 543.4l68.4 194.2M233.4 544.1l68.4 194.2M231.5 544.7l68.4 194.2M229.6 545.4l68.4 194.2M227.7 546.1l68.4 194.2M225.8 546.8l68.4 194.2M223.9 547.4l68.4 194.2M222.0 548.1l68.4 194.2M220.1 548.8l68.4 194.2" stroke="#e03434" stroke-width="0.45" stroke-opacity="1" fill="none"/>
</g></g>
<clipPath id="c9"><rect x="212.39" y="435.76" width="470.4" height="216.26"/></clipPath>
<path clip-path="url(#c9)" d="M329.1 231.6l448.2 258.8M328.3 233.0l448.2 258.8M327.4 234.5l448.2 258.8M326.6 236.0l448.2 258.8M325.7 237.5l448.2 258.8M324.9 238.9l448.2 258.8M324.0 240.4l448.2 258.8M323.2 241.9l448.2 258.8M322.3 243.3l448.2 258.8M321.5 244.8l448.2 258.8M320.6 246.3l448.2 258.8M319.8 247.8l448.2 258.8M318.9 249.2l448.2 258.8M318.1 250.7l448.2 258.8M317.2 252.2l448.2 258.8M316.4 253.7l448.2 258.8M315.5 255.1l448.2 258.8M314.7 256.6l448.2 258.8M313.8 258.1l448.2 258.8M313.0 259.5l448.2 258.8M312.1 261.0l448.2 258.8M311.3 262.5l448.2 258.8M310.4 264.0l448.2 258.8M309.6 265.4l448.2 258.8M308.7 266.9l448.2 258.8M307.9 268.4l448.2 258.8M307.0 269.8l448.2 258.8M306.2 271.3l448.2 258.8M305.3 272.8l448.2 258.8M304.5 274.3l448.2 258.8M303.6 275.7l448.2 258.8M302.8 277.2l448.2 258.8M301.9 278.7l448.2 258.8M301.1 280.2l448.2 258.8M300.2 281.6l448.2 258.8M299.4 283.1l448.2 258.8M298.5 284.6l448.2 258.8M297.7 286.0l448.2 258.8M296.8 287.5l448.2 258.8M296.0 289.0l448.2 258.8M295.1 290.5l448.2 258.8M294.3 291.9l448.2 258.8M293.4 293.4l448.2 258.8M292.6 294.9l448.2 258.8M291.7 296.3l448.2 258.8M290.9 297.8l448.2 258.8M290.0 299.3l448.2 258.8M289.2 300.8l448.2 258.8M288.3 302.2l448.2 258.8M287.5 303.7l448.2 258.8M286.6 305.2l448.2 258.8M285.8 306.7l448.2 258.8M284.9 308.1l448.2 258.8M284.1 309.6l448.2 258.8M283.2 311.1l448.2 258.8M282.4 312.5l448.2 258.8M281.5 314.0l448.2 258.8M280.7 315.5l448.2 258.8M279.8 317.0l448.2 258.8M279.0 318.4l448.2 258.8M278.1 319.9l448.2 258.8M277.3 321.4l448.2 258.8M276.4 322.8l448.2 258.8M275.6 324.3l448.2 258.8M274.7 325.8l448.2 258.8M273.9 327.3l448.2 258.8M273.0 328.7l448.2 258.8M272.2 330.2l448.2 258.8M271.3 331.7l448.2 258.8M270.5 333.2l448.2 258.8M269.6 334.6l448.2 258.8M268.8 336.1l448.2 258.8M267.9 337.6l448.2 258.8M267.1 339.0l448.2 258.8M266.2 340.5l448.2 258.8M265.4 342.0l448.2 258.8M264.5 343.5l448.2 258.8M263.7 344.9l448.2 258.8M262.8 346.4l448.2 258.8M262.0 347.9l448.2 258.8M261.1 349.3l448.2 258.8M260.3 350.8l448.2 258.8M259.4 352.3l448.2 258.8M258.6 353.8l448.2 258.8M257.7 355.2l448.2 258.8M256.9 356.7l448.2 258.8M256.0 358.2l448.2 258.8M255.2 359.7l448.2 258.8M254.3 361.1l448.2 258.8M253.5 362.6l448.2 258.8M252.6 364.1l448.2 258.8M251.8 365.5l448.2 258.8M250.9 367.0l448.2 258.8M250.1 368.5l448.2 258.8M249.2 370.0l448.2 258.8M248.4 371.4l448.2 258.8M247.5 372.9l448.2 258.8M246.7 374.4l448.2 258.8M245.8 375.8l448.2 258.8M245.0 377.3l448.2 258.8M244.1 378.8l448.2 258.8M243.3 380.3l448.2 258.8M242.4 381.7l448.2 258.8M241.6 383.2l448.2 258.8M240.7 384.7l448.2 258.8M239.9 386.2l448.2 258.8M239.0 387.6l448.2 258.8M238.2 389.1l448.2 258.8M237.3 390.6l448.2 258.8M236.5 392.0l448.2 258.8M235.6 393.5l448.2 258.8M234.8 395.0l448.2 258.8M233.9 396.5l448.2 258.8M233.1 397.9l448.2 258.8M232.2 399.4l448.2 258.8M231.4 400.9l448.2 258.8M230.5 402.3l448.2 258.8M229.7 403.8l448.2 258.8M228.8 405.3l448.2 258.8M228.0 406.8l448.2 258.8M227.1 408.2l448.2 258.8M226.3 409.7l448.2 258.8M225.4 411.2l448.2 258.8M224.6 412.7l448.2 258.8M223.7 414.1l448.2 258.8M222.9 415.6l448.2 258.8M222.0 417.1l448.2 258.8M221.2 418.5l448.2 258.8M220.3 420.0l448.2 258.8M219.5 421.5l448.2 258.8M218.6 423.0l448.2 258.8M217.8 424.4l448.2 258.8M216.9 425.9l448.2 258.8M216.1 427.4l448.2 258.8M215.2 428.8l448.2 258.8M214.4 430.3l448.2 258.8M213.5 431.8l448.2 258.8M212.7 433.3l448.2 258.8M211.8 434.7l448.2 258.8M211.0 436.2l448.2 258.8M210.1 437.7l448.2 258.8M209.3 439.2l448.2 258.8M208.4 440.6l448.2 258.8M207.6 442.1l448.2 258.8M206.7 443.6l448.2 258.8M205.9 445.0l448.2 258.8M205.0 446.5l448.2 258.8M204.2 448.0l448.2 258.8M203.3 449.5l448.2 258.8M202.5 450.9l448.2 258.8M201.6 452.4l448.2 258.8M200.8 453.9l448.2 258.8M199.9 455.4l448.2 258.8M199.1 456.8l448.2 258.8M198.2 458.3l448.2 258.8M197.4 459.8l448.2 258.8M196.5 461.2l448.2 258.8M195.7 462.7l448.2 258.8M194.8 464.2l448.2 258.8M194.0 465.7l448.2 258.8M193.1 467.1l448.2 258.8M192.3 468.6l448.2 258.8M191.4 470.1l448.2 258.8M190.6 471.5l448.2 258.8M189.7 473.0l448.2 258.8M188.9 474.5l448.2 258.8M188.0 476.0l448.2 258.8M187.2 477.4l448.2 258.8M186.3 478.9l448.2 258.8M185.5 480.4l448.2 258.8M184.6 481.9l448.2 258.8M183.8 483.3l448.2 258.8M182.9 484.8l448.2 258.8M182.1 486.3l448.2 258.8M181.2 487.7l448.2 258.8M180.4 489.2l448.2 258.8M179.5 490.7l448.2 258.8M178.7 492.2l448.2 258.8M177.8 493.6l448.2 258.8M177.0 495.1l448.2 258.8M176.1 496.6l448.2 258.8M175.3 498.0l448.2 258.8M174.4 499.5l448.2 258.8M173.6 501.0l448.2 258.8M172.7 502.5l448.2 258.8M171.9 503.9l448.2 258.8M171.0 505.4l448.2 258.8M170.2 506.9l448.2 258.8M169.3 508.4l448.2 258.8M168.5 509.8l448.2 258.8M167.6 511.3l448.2 258.8M166.8 512.8l448.2 258.8M165.9 514.2l448.2 258.8M165.1 515.7l448.2 258.8M164.2 517.2l448.2 258.8M163.4 518.7l448.2 258.8M162.5 520.1l448.2 258.8M161.7 521.6l448.2 258.8M160.8 523.1l448.2 258.8M160.0 524.5l448.2 258.8M159.1 526.0l448.2 258.8M158.3 527.5l448.2 258.8M157.4 529.0l448.2 258.8M156.6 530.4l448.2 258.8M155.7 531.9l448.2 258.8M154.9 533.4l448.2 258.8M154.0 534.9l448.2 258.8M153.2 536.3l448.2 258.8M152.3 537.8l448.2 258.8M151.5 539.3l448.2 258.8M150.6 540.7l448.2 258.8M149.8 542.2l448.2 258.8M148.9 543.7l448.2 258.8M148.1 545.2l448.2 258.8M147.2 546.6l448.2 258.8M146.4 548.1l448.2 258.8M145.5 549.6l448.2 258.8M144.7 551.0l448.2 258.8M143.8 552.5l448.2 258.8M143.0 554.0l448.2 258.8M142.1 555.5l448.2 258.8M141.3 556.9l448.2 258.8M140.4 558.4l448.2 258.8M139.6 559.9l448.2 258.8M138.7 561.4l448.2 258.8M137.9 562.8l448.2 258.8M137.0 564.3l448.2 258.8M136.2 565.8l448.2 258.8M135.3 567.2l448.2 258.8M134.5 568.7l448.2 258.8M133.6 570.2l448.2 258.8M132.8 571.7l448.2 258.8M131.9 573.1l448.2 258.8M131.1 574.6l448.2 258.8M130.2 576.1l448.2 258.8M129.4 577.5l448.2 258.8M128.5 579.0l448.2 258.8M127.7 580.5l448.2 258.8M126.8 582.0l448.2 258.8M126.0 583.4l448.2 258.8M125.1 584.9l448.2 258.8M124.3 586.4l448.2 258.8M123.4 587.9l448.2 258.8M122.6 589.3l448.2 258.8M121.7 590.8l448.2 258.8M120.9 592.3l448.2 258.8M120.0 593.7l448.2 258.8M119.2 595.2l448.2 258.8M118.3 596.7l448.2 258.8" stroke="#5656d8" stroke-width="0.72" stroke-opacity="1" fill="none"/>
<clipPath id="c10"><rect x="212.39" y="547.73" width="470.4" height="19.7"/></clipPath>
<path clip-path="url(#c10)" d="M328.7 344.3l363.1 209.6M327.8 345.8l363.1 209.6M327.0 347.2l363.1 209.6M326.1 348.7l363.1 209.6M325.3 350.2l363.1 209.6M324.4 351.6l363.1 209.6M323.6 353.1l363.1 209.6M322.7 354.6l363.1 209.6M321.9 356.1l363.1 209.6M321.0 357.5l363.1 209.6M320.2 359.0l363.1 209.6M319.3 360.5l363.1 209.6M318.5 361.9l363.1 209.6M317.6 363.4l363.1 209.6M316.8 364.9l363.1 209.6M315.9 366.4l363.1 209.6M315.1 367.8l363.1 209.6M314.2 369.3l363.1 209.6M313.4 370.8l363.1 209.6M312.5 372.3l363.1 209.6M311.7 373.7l363.1 209.6M310.8 375.2l363.1 209.6M310.0 376.7l363.1 209.6M309.1 378.1l363.1 209.6M308.3 379.6l363.1 209.6M307.4 381.1l363.1 209.6M306.6 382.6l363.1 209.6M305.7 384.0l363.1 209.6M304.9 385.5l363.1 209.6M304.0 387.0l363.1 209.6M303.2 388.4l363.1 209.6M302.3 389.9l363.1 209.6M301.5 391.4l363.1 209.6M300.6 392.9l363.1 209.6M299.8 394.3l363.1 209.6M298.9 395.8l363.1 209.6M298.1 397.3l363.1 209.6M297.2 398.8l363.1 209.6M296.4 400.2l363.1 209.6M295.5 401.7l363.1 209.6M294.7 403.2l363.1 209.6M293.8 404.6l363.1 209.6M293.0 406.1l363.1 209.6M292.1 407.6l363.1 209.6M291.3 409.1l363.1 209.6M290.4 410.5l363.1 209.6M289.6 412.0l363.1 209.6M288.7 413.5l363.1 209.6M287.9 414.9l363.1 209.6M287.0 416.4l363.1 209.6M286.2 417.9l363.1 209.6M285.3 419.4l363.1 209.6M284.5 420.8l363.1 209.6M283.6 422.3l363.1 209.6M282.8 423.8l363.1 209.6M281.9 425.3l363.1 209.6M281.1 426.7l363.1 209.6M280.2 428.2l363.1 209.6M279.4 429.7l363.1 209.6M278.5 431.1l363.1 209.6M277.7 432.6l363.1 209.6M276.8 434.1l363.1 209.6M276.0 435.6l363.1 209.6M275.1 437.0l363.1 209.6M274.3 438.5l363.1 209.6M273.4 440.0l363.1 209.6M272.6 441.4l363.1 209.6M271.7 442.9l363.1 209.6M270.9 444.4l363.1 209.6M270.0 445.9l363.1 209.6M269.2 447.3l363.1 209.6M268.3 448.8l363.1 209.6M267.5 450.3l363.1 209.6M266.6 451.8l363.1 209.6M265.8 453.2l363.1 209.6M264.9 454.7l363.1 209.6M264.1 456.2l363.1 209.6M263.2 457.6l363.1 209.6M262.4 459.1l363.1 209.6M261.5 460.6l363.1 209.6M260.7 462.1l363.1 209.6M259.8 463.5l363.1 209.6M259.0 465.0l363.1 209.6M258.1 466.5l363.1 209.6M257.3 467.9l363.1 209.6M256.4 469.4l363.1 209.6M255.6 470.9l363.1 209.6M254.7 472.4l363.1 209.6M253.9 473.8l363.1 209.6M253.0 475.3l363.1 209.6M252.2 476.8l363.1 209.6M251.3 478.3l363.1 209.6M250.5 479.7l363.1 209.6M249.6 481.2l363.1 209.6M248.8 482.7l363.1 209.6M247.9 484.1l363.1 209.6M247.1 485.6l363.1 209.6M246.2 487.1l363.1 209.6M245.4 488.6l363.1 209.6M244.5 490.0l363.1 209.6M243.7 491.5l363.1 209.6M242.8 493.0l363.1 209.6M242.0 494.5l363.1 209.6M241.1 495.9l363.1 209.6M240.3 497.4l363.1 209.6M239.4 498.9l363.1 209.6M238.6 500.3l363.1 209.6M237.7 501.8l363.1 209.6M236.9 503.3l363.1 209.6M236.0 504.8l363.1 209.6M235.2 506.2l363.1 209.6M234.3 507.7l363.1 209.6M233.5 509.2l363.1 209.6M232.6 510.6l363.1 209.6M231.8 512.1l363.1 209.6M230.9 513.6l363.1 209.6M230.1 515.1l363.1 209.6M229.2 516.5l363.1 209.6M228.4 518.0l363.1 209.6M227.5 519.5l363.1 209.6M226.7 521.0l363.1 209.6M225.8 522.4l363.1 209.6M225.0 523.9l363.1 209.6M224.1 525.4l363.1 209.6M223.3 526.8l363.1 209.6M222.4 528.3l363.1 209.6M221.6 529.8l363.1 209.6M220.7 531.3l363.1 209.6M219.9 532.7l363.1 209.6M219.0 534.2l363.1 209.6M218.2 535.7l363.1 209.6M217.3 537.1l363.1 209.6M216.5 538.6l363.1 209.6M215.6 540.1l363.1 209.6M214.8 541.6l363.1 209.6M213.9 543.0l363.1 209.6M213.1 544.5l363.1 209.6M212.2 546.0l363.1 209.6M211.4 547.5l363.1 209.6M210.5 548.9l363.1 209.6M209.7 550.4l363.1 209.6M208.8 551.9l363.1 209.6M208.0 553.3l363.1 209.6M207.1 554.8l363.1 209.6M206.3 556.3l363.1 209.6M205.4 557.8l363.1 209.6M204.6 559.2l363.1 209.6M203.7 560.7l363.1 209.6" stroke="#5050d4" stroke-width="0.72" stroke-opacity="1" fill="none"/>
<polygon points="226.8,651.6 228,646.5 230.1,640.4 234.4,627.5 240.9,608.1 248.4,586.6 257,565 265.6,545.6 275.3,521.9 285,500.4 294.7,478.9 304.4,457.3 313.7,436 784.3,436 774.8,457.3 765.1,478.9 755.4,500.4 745.7,521.9 736.4,543.5 727.8,565 719.9,586.6 712.3,608.1 705.9,625.3 701.5,638.3 699.4,644.7 698.3,651.6" fill="none" stroke="#e01c1c" stroke-width="1.4" stroke-linejoin="round"/>
<path d="M461.8 651.6L463.5 645L466.2 636.1L471.5 618.9L478 599.5L484.5 582.3L490.9 567.2L500.6 545.6L510.3 524.1L520 502.6L529.7 481L539.4 459.5L549.3 436" fill="none" stroke="#e01515" stroke-width="1.3"/>
<path d="M491.8 565.4L495.6 556.7L499.7 547.6" fill="none" stroke="#f00000" stroke-width="6.2" stroke-linecap="round"/>
<line x1="447.4" y1="436" x2="447.4" y2="652" stroke="#3030e0" stroke-width="1.2"/>
<line x1="447.4" y1="547.8" x2="447.4" y2="566.5" stroke="#2828f0" stroke-width="5.4" stroke-linecap="round"/>
<line x1="305.3" y1="387.7" x2="305.3" y2="676" stroke="#1c1c1c" stroke-width="1.6"/>
<path d="M101.06 676.05v-4.6M101.06 387.7v4.6M132.42 676.05v-4.6M132.42 387.7v4.6M163.78 676.05v-4.6M163.78 387.7v4.6M195.14 676.05v-4.6M195.14 387.7v4.6M226.5 676.05v-9M226.5 387.7v9M383.3 676.05v-9M383.3 387.7v9M414.66 676.05v-4.6M414.66 387.7v4.6M446.02 676.05v-4.6M446.02 387.7v4.6M477.38 676.05v-4.6M477.38 387.7v4.6M508.74 676.05v-4.6M508.74 387.7v4.6M540.1 676.05v-9M540.1 387.7v9M571.46 676.05v-4.6M571.46 387.7v4.6M602.82 676.05v-4.6M602.82 387.7v4.6M634.18 676.05v-4.6M634.18 387.7v4.6M665.54 676.05v-4.6M665.54 387.7v4.6M696.9 676.05v-9M696.9 387.7v9M728.26 676.05v-4.6M728.26 387.7v4.6M759.62 676.05v-4.6M759.62 387.7v4.6M790.98 676.05v-4.6M790.98 387.7v4.6M822.34 676.05v-4.6M822.34 387.7v4.6M69.7 652.02h4.6M853.7 652.02h-4.6M69.7 627.99h4.6M853.7 627.99h-4.6M69.7 603.96h4.6M853.7 603.96h-4.6M69.7 579.93h9M853.7 579.93h-9M69.7 555.9h4.6M853.7 555.9h-4.6M69.7 531.88h4.6M853.7 531.88h-4.6M69.7 507.85h4.6M853.7 507.85h-4.6M69.7 483.82h9M853.7 483.82h-9M69.7 459.79h4.6M853.7 459.79h-4.6M69.7 435.76h4.6M853.7 435.76h-4.6M69.7 411.73h4.6M853.7 411.73h-4.6" stroke="#1c1c1c" stroke-width="1.1" fill="none"/>
<rect x="69.7" y="387.7" width="784" height="288.35" fill="none" stroke="#1c1c1c" stroke-width="1.3"/>
<rect x="402.9" y="768.5" width="78.4" height="288.1" fill="#bcbcbc"/>
<clipPath id="c11"><rect x="402.9" y="768.5" width="78.4" height="288.1"/></clipPath>
<path clip-path="url(#c11)" d="M266.7 863.9l189.6 -132.8M268.3 866.1l189.6 -132.8M269.8 868.3l189.6 -132.8M271.4 870.5l189.6 -132.8M272.9 872.7l189.6 -132.8M274.5 874.9l189.6 -132.8M276.0 877.1l189.6 -132.8M277.6 879.3l189.6 -132.8M279.1 881.5l189.6 -132.8M280.7 883.8l189.6 -132.8M282.2 886.0l189.6 -132.8M283.8 888.2l189.6 -132.8M285.3 890.4l189.6 -132.8M286.9 892.6l189.6 -132.8M288.4 894.8l189.6 -132.8M289.9 897.0l189.6 -132.8M291.5 899.2l189.6 -132.8M293.0 901.5l189.6 -132.8M294.6 903.7l189.6 -132.8M296.1 905.9l189.6 -132.8M297.7 908.1l189.6 -132.8M299.2 910.3l189.6 -132.8M300.8 912.5l189.6 -132.8M302.3 914.7l189.6 -132.8M303.9 916.9l189.6 -132.8M305.4 919.1l189.6 -132.8M307.0 921.4l189.6 -132.8M308.5 923.6l189.6 -132.8M310.1 925.8l189.6 -132.8M311.6 928.0l189.6 -132.8M313.2 930.2l189.6 -132.8M314.7 932.4l189.6 -132.8M316.3 934.6l189.6 -132.8M317.8 936.8l189.6 -132.8M319.4 939.1l189.6 -132.8M320.9 941.3l189.6 -132.8M322.5 943.5l189.6 -132.8M324.0 945.7l189.6 -132.8M325.6 947.9l189.6 -132.8M327.1 950.1l189.6 -132.8M328.7 952.3l189.6 -132.8M330.2 954.5l189.6 -132.8M331.8 956.7l189.6 -132.8M333.3 959.0l189.6 -132.8M334.9 961.2l189.6 -132.8M336.4 963.4l189.6 -132.8M338.0 965.6l189.6 -132.8M339.5 967.8l189.6 -132.8M341.1 970.0l189.6 -132.8M342.6 972.2l189.6 -132.8M344.2 974.4l189.6 -132.8M345.7 976.7l189.6 -132.8M347.2 978.9l189.6 -132.8M348.8 981.1l189.6 -132.8M350.3 983.3l189.6 -132.8M351.9 985.5l189.6 -132.8M353.4 987.7l189.6 -132.8M355.0 989.9l189.6 -132.8M356.5 992.1l189.6 -132.8M358.1 994.3l189.6 -132.8M359.6 996.6l189.6 -132.8M361.2 998.8l189.6 -132.8M362.7 1001.0l189.6 -132.8M364.3 1003.2l189.6 -132.8M365.8 1005.4l189.6 -132.8M367.4 1007.6l189.6 -132.8M368.9 1009.8l189.6 -132.8M370.5 1012.0l189.6 -132.8M372.0 1014.3l189.6 -132.8M373.6 1016.5l189.6 -132.8M375.1 1018.7l189.6 -132.8M376.7 1020.9l189.6 -132.8M378.2 1023.1l189.6 -132.8M379.8 1025.3l189.6 -132.8M381.3 1027.5l189.6 -132.8M382.9 1029.7l189.6 -132.8M384.4 1031.9l189.6 -132.8M386.0 1034.2l189.6 -132.8M387.5 1036.4l189.6 -132.8M389.1 1038.6l189.6 -132.8M390.6 1040.8l189.6 -132.8M392.2 1043.0l189.6 -132.8M393.7 1045.2l189.6 -132.8M395.3 1047.4l189.6 -132.8M396.8 1049.6l189.6 -132.8M398.4 1051.9l189.6 -132.8M399.9 1054.1l189.6 -132.8M401.5 1056.3l189.6 -132.8M403.0 1058.5l189.6 -132.8M404.5 1060.7l189.6 -132.8M406.1 1062.9l189.6 -132.8M407.6 1065.1l189.6 -132.8M409.2 1067.3l189.6 -132.8M410.7 1069.5l189.6 -132.8M412.3 1071.8l189.6 -132.8M413.8 1074.0l189.6 -132.8M415.4 1076.2l189.6 -132.8M416.9 1078.4l189.6 -132.8M418.5 1080.6l189.6 -132.8M420.0 1082.8l189.6 -132.8M421.6 1085.0l189.6 -132.8M423.1 1087.2l189.6 -132.8M424.7 1089.5l189.6 -132.8M426.2 1091.7l189.6 -132.8M427.8 1093.9l189.6 -132.8" stroke="#a3a3a3" stroke-width="1.3" stroke-opacity="1" fill="none"/>
<polygon points="69.7,965.3 106,956.4 152.1,944.9 198.1,932.2 221.1,925.8 250,918.4 296,907.5 328.3,899.5 365.1,888.5 390,881 403.5,877 442.3,867.2 481.4,854 500,847.7 532,835.3 555.2,826.3 578,818.3 610,807 637.6,795.2 665.2,786.2 692.9,777.3 717.7,768.5 853.7,768.5 853.7,822.2 788.8,842 730,860 698.6,867.8 670.5,875 651.4,879.8 620,885.5 596.8,891.6 582.9,895.3 555.2,904 532,910 500,917.5 481.4,921.5 442.3,928.8 403.5,938 390,942 342,951 296,960.5 250,970 198.1,980.6 152.1,988.6 106,995.5 69.7,1001.4" fill="#f59696"/>
<clipPath id="c12"><polygon points="69.7,965.3 106,956.4 152.1,944.9 198.1,932.2 221.1,925.8 250,918.4 296,907.5 328.3,899.5 365.1,888.5 390,881 403.5,877 442.3,867.2 481.4,854 500,847.7 532,835.3 555.2,826.3 578,818.3 610,807 637.6,795.2 665.2,786.2 692.9,777.3 717.7,768.5 853.7,768.5 853.7,822.2 788.8,842 730,860 698.6,867.8 670.5,875 651.4,879.8 620,885.5 596.8,891.6 582.9,895.3 555.2,904 532,910 500,917.5 481.4,921.5 442.3,928.8 403.5,938 390,942 342,951 296,960.5 250,970 198.1,980.6 152.1,988.6 106,995.5 69.7,1001.4"/></clipPath>
<path clip-path="url(#c12)" d="M829.9 633.4l63.9 362.5M826.6 634.0l63.9 362.5M823.4 634.6l63.9 362.5M820.1 635.2l63.9 362.5M816.9 635.7l63.9 362.5M813.6 636.3l63.9 362.5M810.4 636.9l63.9 362.5M807.1 637.5l63.9 362.5M803.9 638.0l63.9 362.5M800.6 638.6l63.9 362.5M797.4 639.2l63.9 362.5M794.1 639.7l63.9 362.5M790.9 640.3l63.9 362.5M787.6 640.9l63.9 362.5M784.4 641.5l63.9 362.5M781.1 642.0l63.9 362.5M777.9 642.6l63.9 362.5M774.6 643.2l63.9 362.5M771.4 643.8l63.9 362.5M768.1 644.3l63.9 362.5M764.9 644.9l63.9 362.5M761.6 645.5l63.9 362.5M758.4 646.1l63.9 362.5M755.1 646.6l63.9 362.5M751.9 647.2l63.9 362.5M748.6 647.8l63.9 362.5M745.4 648.3l63.9 362.5M742.1 648.9l63.9 362.5M738.9 649.5l63.9 362.5M735.6 650.1l63.9 362.5M732.4 650.6l63.9 362.5M729.1 651.2l63.9 362.5M725.9 651.8l63.9 362.5M722.6 652.4l63.9 362.5M719.4 652.9l63.9 362.5M716.1 653.5l63.9 362.5M712.9 654.1l63.9 362.5M709.6 654.6l63.9 362.5M706.4 655.2l63.9 362.5M703.1 655.8l63.9 362.5M699.9 656.4l63.9 362.5M696.6 656.9l63.9 362.5M693.4 657.5l63.9 362.5M690.1 658.1l63.9 362.5M686.9 658.7l63.9 362.5M683.6 659.2l63.9 362.5M680.4 659.8l63.9 362.5M677.1 660.4l63.9 362.5M673.9 660.9l63.9 362.5M670.6 661.5l63.9 362.5M667.4 662.1l63.9 362.5M664.1 662.7l63.9 362.5M660.9 663.2l63.9 362.5M657.6 663.8l63.9 362.5M654.4 664.4l63.9 362.5M651.1 665.0l63.9 362.5M647.9 665.5l63.9 362.5M644.6 666.1l63.9 362.5M641.4 666.7l63.9 362.5M638.1 667.3l63.9 362.5M634.9 667.8l63.9 362.5M631.6 668.4l63.9 362.5M628.4 669.0l63.9 362.5M625.1 669.5l63.9 362.5M621.9 670.1l63.9 362.5M618.6 670.7l63.9 362.5M615.4 671.3l63.9 362.5M612.1 671.8l63.9 362.5M608.9 672.4l63.9 362.5M605.6 673.0l63.9 362.5M602.4 673.6l63.9 362.5M599.1 674.1l63.9 362.5M595.9 674.7l63.9 362.5M592.6 675.3l63.9 362.5M589.4 675.8l63.9 362.5M586.1 676.4l63.9 362.5M582.9 677.0l63.9 362.5M579.6 677.6l63.9 362.5M576.4 678.1l63.9 362.5M573.1 678.7l63.9 362.5M569.9 679.3l63.9 362.5M566.6 679.9l63.9 362.5M563.4 680.4l63.9 362.5M560.1 681.0l63.9 362.5M556.9 681.6l63.9 362.5M553.6 682.2l63.9 362.5M550.4 682.7l63.9 362.5M547.1 683.3l63.9 362.5M543.9 683.9l63.9 362.5M540.6 684.4l63.9 362.5M537.4 685.0l63.9 362.5M534.1 685.6l63.9 362.5M530.9 686.2l63.9 362.5M527.6 686.7l63.9 362.5M524.4 687.3l63.9 362.5M521.1 687.9l63.9 362.5M517.9 688.5l63.9 362.5M514.6 689.0l63.9 362.5M511.4 689.6l63.9 362.5M508.1 690.2l63.9 362.5M504.9 690.7l63.9 362.5M501.6 691.3l63.9 362.5M498.4 691.9l63.9 362.5M495.1 692.5l63.9 362.5M491.9 693.0l63.9 362.5M488.6 693.6l63.9 362.5M485.4 694.2l63.9 362.5M482.2 694.8l63.9 362.5M478.9 695.3l63.9 362.5M475.7 695.9l63.9 362.5M472.4 696.5l63.9 362.5M469.2 697.1l63.9 362.5M465.9 697.6l63.9 362.5M462.7 698.2l63.9 362.5M459.4 698.8l63.9 362.5M456.2 699.3l63.9 362.5M452.9 699.9l63.9 362.5M449.7 700.5l63.9 362.5M446.4 701.1l63.9 362.5M443.2 701.6l63.9 362.5M439.9 702.2l63.9 362.5M436.7 702.8l63.9 362.5M433.4 703.4l63.9 362.5M430.2 703.9l63.9 362.5M426.9 704.5l63.9 362.5M423.7 705.1l63.9 362.5M420.4 705.6l63.9 362.5M417.2 706.2l63.9 362.5M413.9 706.8l63.9 362.5M410.7 707.4l63.9 362.5M407.4 707.9l63.9 362.5M404.2 708.5l63.9 362.5M400.9 709.1l63.9 362.5M397.7 709.7l63.9 362.5M394.4 710.2l63.9 362.5M391.2 710.8l63.9 362.5M387.9 711.4l63.9 362.5M384.7 711.9l63.9 362.5M381.4 712.5l63.9 362.5M378.2 713.1l63.9 362.5M374.9 713.7l63.9 362.5M371.7 714.2l63.9 362.5M368.4 714.8l63.9 362.5M365.2 715.4l63.9 362.5M361.9 716.0l63.9 362.5M358.7 716.5l63.9 362.5M355.4 717.1l63.9 362.5M352.2 717.7l63.9 362.5M348.9 718.3l63.9 362.5M345.7 718.8l63.9 362.5M342.4 719.4l63.9 362.5M339.2 720.0l63.9 362.5M335.9 720.5l63.9 362.5M332.7 721.1l63.9 362.5M329.4 721.7l63.9 362.5M326.2 722.3l63.9 362.5M322.9 722.8l63.9 362.5M319.7 723.4l63.9 362.5M316.4 724.0l63.9 362.5M313.2 724.6l63.9 362.5M309.9 725.1l63.9 362.5M306.7 725.7l63.9 362.5M303.4 726.3l63.9 362.5M300.2 726.8l63.9 362.5M296.9 727.4l63.9 362.5M293.7 728.0l63.9 362.5M290.4 728.6l63.9 362.5M287.2 729.1l63.9 362.5M283.9 729.7l63.9 362.5M280.7 730.3l63.9 362.5M277.4 730.9l63.9 362.5M274.2 731.4l63.9 362.5M270.9 732.0l63.9 362.5M267.7 732.6l63.9 362.5M264.4 733.2l63.9 362.5M261.2 733.7l63.9 362.5M257.9 734.3l63.9 362.5M254.7 734.9l63.9 362.5M251.4 735.4l63.9 362.5M248.2 736.0l63.9 362.5M244.9 736.6l63.9 362.5M241.7 737.2l63.9 362.5M238.4 737.7l63.9 362.5M235.2 738.3l63.9 362.5M231.9 738.9l63.9 362.5M228.7 739.5l63.9 362.5M225.4 740.0l63.9 362.5M222.2 740.6l63.9 362.5M218.9 741.2l63.9 362.5M215.7 741.7l63.9 362.5M212.4 742.3l63.9 362.5M209.2 742.9l63.9 362.5M205.9 743.5l63.9 362.5M202.7 744.0l63.9 362.5M199.4 744.6l63.9 362.5M196.2 745.2l63.9 362.5M192.9 745.8l63.9 362.5M189.7 746.3l63.9 362.5M186.4 746.9l63.9 362.5M183.2 747.5l63.9 362.5M179.9 748.1l63.9 362.5M176.7 748.6l63.9 362.5M173.4 749.2l63.9 362.5M170.2 749.8l63.9 362.5M166.9 750.3l63.9 362.5M163.7 750.9l63.9 362.5M160.4 751.5l63.9 362.5M157.2 752.1l63.9 362.5M153.9 752.6l63.9 362.5M150.7 753.2l63.9 362.5M147.4 753.8l63.9 362.5M144.2 754.4l63.9 362.5M140.9 754.9l63.9 362.5M137.7 755.5l63.9 362.5M134.4 756.1l63.9 362.5M131.2 756.6l63.9 362.5M127.9 757.2l63.9 362.5M124.7 757.8l63.9 362.5M121.4 758.4l63.9 362.5M118.2 758.9l63.9 362.5M114.9 759.5l63.9 362.5M111.7 760.1l63.9 362.5M108.4 760.7l63.9 362.5M105.2 761.2l63.9 362.5M101.9 761.8l63.9 362.5M98.7 762.4l63.9 362.5M95.4 763.0l63.9 362.5M92.2 763.5l63.9 362.5M88.9 764.1l63.9 362.5M85.7 764.7l63.9 362.5M82.4 765.2l63.9 362.5M79.2 765.8l63.9 362.5M75.9 766.4l63.9 362.5M72.7 767.0l63.9 362.5M69.4 767.5l63.9 362.5M66.2 768.1l63.9 362.5M62.9 768.7l63.9 362.5M59.7 769.3l63.9 362.5M56.4 769.8l63.9 362.5M53.2 770.4l63.9 362.5M49.9 771.0l63.9 362.5M46.7 771.5l63.9 362.5M43.4 772.1l63.9 362.5M40.2 772.7l63.9 362.5M36.9 773.3l63.9 362.5M33.7 773.8l63.9 362.5M30.4 774.4l63.9 362.5" stroke="#ffffff" stroke-width="0.8" stroke-opacity="0.35" fill="none"/>
<clipPath id="bandclip"><polygon points="69.7,965.3 106,956.4 152.1,944.9 198.1,932.2 221.1,925.8 250,918.4 296,907.5 328.3,899.5 365.1,888.5 390,881 403.5,877 442.3,867.2 481.4,854 500,847.7 532,835.3 555.2,826.3 578,818.3 610,807 637.6,795.2 665.2,786.2 692.9,777.3 717.7,768.5 853.7,768.5 853.7,822.2 788.8,842 730,860 698.6,867.8 670.5,875 651.4,879.8 620,885.5 596.8,891.6 582.9,895.3 555.2,904 532,910 500,917.5 481.4,921.5 442.3,928.8 403.5,938 390,942 342,951 296,960.5 250,970 198.1,980.6 152.1,988.6 106,995.5 69.7,1001.4"/></clipPath>
<g clip-path="url(#bandclip)"><rect x="69.7" y="868" width="784" height="32" fill="#f77474"/>
<clipPath id="c13"><rect x="300" y="868" width="420" height="32"/></clipPath>
<path clip-path="url(#c13)" d="M679.6 743.6l50.1 154.3M676.9 744.5l50.1 154.3M674.2 745.4l50.1 154.3M671.5 746.3l50.1 154.3M668.7 747.1l50.1 154.3M666.0 748.0l50.1 154.3M663.3 748.9l50.1 154.3M660.6 749.8l50.1 154.3M657.9 750.7l50.1 154.3M655.2 751.5l50.1 154.3M652.5 752.4l50.1 154.3M649.8 753.3l50.1 154.3M647.1 754.2l50.1 154.3M644.3 755.1l50.1 154.3M641.6 755.9l50.1 154.3M638.9 756.8l50.1 154.3M636.2 757.7l50.1 154.3M633.5 758.6l50.1 154.3M630.8 759.5l50.1 154.3M628.1 760.3l50.1 154.3M625.4 761.2l50.1 154.3M622.7 762.1l50.1 154.3M620.0 763.0l50.1 154.3M617.2 763.9l50.1 154.3M614.5 764.8l50.1 154.3M611.8 765.6l50.1 154.3M609.1 766.5l50.1 154.3M606.4 767.4l50.1 154.3M603.7 768.3l50.1 154.3M601.0 769.2l50.1 154.3M598.3 770.0l50.1 154.3M595.6 770.9l50.1 154.3M592.8 771.8l50.1 154.3M590.1 772.7l50.1 154.3M587.4 773.6l50.1 154.3M584.7 774.4l50.1 154.3M582.0 775.3l50.1 154.3M579.3 776.2l50.1 154.3M576.6 777.1l50.1 154.3M573.9 778.0l50.1 154.3M571.2 778.8l50.1 154.3M568.5 779.7l50.1 154.3M565.7 780.6l50.1 154.3M563.0 781.5l50.1 154.3M560.3 782.4l50.1 154.3M557.6 783.2l50.1 154.3M554.9 784.1l50.1 154.3M552.2 785.0l50.1 154.3M549.5 785.9l50.1 154.3M546.8 786.8l50.1 154.3M544.1 787.6l50.1 154.3M541.3 788.5l50.1 154.3M538.6 789.4l50.1 154.3M535.9 790.3l50.1 154.3M533.2 791.2l50.1 154.3M530.5 792.1l50.1 154.3M527.8 792.9l50.1 154.3M525.1 793.8l50.1 154.3M522.4 794.7l50.1 154.3M519.7 795.6l50.1 154.3M517.0 796.5l50.1 154.3M514.2 797.3l50.1 154.3M511.5 798.2l50.1 154.3M508.8 799.1l50.1 154.3M506.1 800.0l50.1 154.3M503.4 800.9l50.1 154.3M500.7 801.7l50.1 154.3M498.0 802.6l50.1 154.3M495.3 803.5l50.1 154.3M492.6 804.4l50.1 154.3M489.8 805.3l50.1 154.3M487.1 806.1l50.1 154.3M484.4 807.0l50.1 154.3M481.7 807.9l50.1 154.3M479.0 808.8l50.1 154.3M476.3 809.7l50.1 154.3M473.6 810.5l50.1 154.3M470.9 811.4l50.1 154.3M468.2 812.3l50.1 154.3M465.5 813.2l50.1 154.3M462.7 814.1l50.1 154.3M460.0 815.0l50.1 154.3M457.3 815.8l50.1 154.3M454.6 816.7l50.1 154.3M451.9 817.6l50.1 154.3M449.2 818.5l50.1 154.3M446.5 819.4l50.1 154.3M443.8 820.2l50.1 154.3M441.1 821.1l50.1 154.3M438.3 822.0l50.1 154.3M435.6 822.9l50.1 154.3M432.9 823.8l50.1 154.3M430.2 824.6l50.1 154.3M427.5 825.5l50.1 154.3M424.8 826.4l50.1 154.3M422.1 827.3l50.1 154.3M419.4 828.2l50.1 154.3M416.7 829.0l50.1 154.3M414.0 829.9l50.1 154.3M411.2 830.8l50.1 154.3M408.5 831.7l50.1 154.3M405.8 832.6l50.1 154.3M403.1 833.4l50.1 154.3M400.4 834.3l50.1 154.3M397.7 835.2l50.1 154.3M395.0 836.1l50.1 154.3M392.3 837.0l50.1 154.3M389.6 837.8l50.1 154.3M386.8 838.7l50.1 154.3M384.1 839.6l50.1 154.3M381.4 840.5l50.1 154.3M378.7 841.4l50.1 154.3M376.0 842.3l50.1 154.3M373.3 843.1l50.1 154.3M370.6 844.0l50.1 154.3M367.9 844.9l50.1 154.3M365.2 845.8l50.1 154.3M362.5 846.7l50.1 154.3M359.7 847.5l50.1 154.3M357.0 848.4l50.1 154.3M354.3 849.3l50.1 154.3M351.6 850.2l50.1 154.3M348.9 851.1l50.1 154.3M346.2 851.9l50.1 154.3M343.5 852.8l50.1 154.3M340.8 853.7l50.1 154.3M338.1 854.6l50.1 154.3M335.3 855.5l50.1 154.3M332.6 856.3l50.1 154.3M329.9 857.2l50.1 154.3M327.2 858.1l50.1 154.3M324.5 859.0l50.1 154.3M321.8 859.9l50.1 154.3M319.1 860.7l50.1 154.3M316.4 861.6l50.1 154.3M313.7 862.5l50.1 154.3M311.0 863.4l50.1 154.3M308.2 864.3l50.1 154.3M305.5 865.2l50.1 154.3M302.8 866.0l50.1 154.3M300.1 866.9l50.1 154.3M297.4 867.8l50.1 154.3M294.7 868.7l50.1 154.3M292.0 869.6l50.1 154.3" stroke="#d41414" stroke-width="1.25" stroke-opacity="1" fill="none"/>
</g>
<path d="M69.7 985.7L106 979.4L152.1 970.2L198.1 961L250 948.8L296 938.6L339.8 925.5L388.1 914.4L442.3 902.3L452.7 899.3L567.7 869L601 859L640 846L682.9 831.5L735.9 812.9L786.2 794.4L853.7 775.1" fill="none" stroke="#e01010" stroke-width="1.2"/>
<path d="M451.9 899L567.5 868.6" fill="none" stroke="#f00000" stroke-width="5" stroke-linecap="butt"/>
<line x1="442.5" y1="768.5" x2="442.5" y2="1056.6" stroke="#1c1c1c" stroke-width="1.15"/>
<path d="M118.7 1056.6v-4.6M118.7 768.5v4.6M167.7 1056.6v-4.6M167.7 768.5v4.6M216.7 1056.6v-4.6M216.7 768.5v4.6M265.7 1056.6v-9M265.7 768.5v9M314.7 1056.6v-4.6M314.7 768.5v4.6M363.7 1056.6v-4.6M363.7 768.5v4.6M412.7 1056.6v-4.6M412.7 768.5v4.6M461.7 1056.6v-9M461.7 768.5v9M510.7 1056.6v-4.6M510.7 768.5v4.6M559.7 1056.6v-4.6M559.7 768.5v4.6M608.7 1056.6v-4.6M608.7 768.5v4.6M657.7 1056.6v-9M657.7 768.5v9M706.7 1056.6v-4.6M706.7 768.5v4.6M755.7 1056.6v-4.6M755.7 768.5v4.6M804.7 1056.6v-4.6M804.7 768.5v4.6M69.7 1043.5h4.6M853.7 1043.5h-4.6M69.7 1030.41h4.6M853.7 1030.41h-4.6M69.7 1017.31h4.6M853.7 1017.31h-4.6M69.7 1004.22h9M853.7 1004.22h-9M69.7 991.12h4.6M853.7 991.12h-4.6M69.7 978.03h4.6M853.7 978.03h-4.6M69.7 964.93h4.6M853.7 964.93h-4.6M69.7 951.84h9M853.7 951.84h-9M69.7 938.74h4.6M853.7 938.74h-4.6M69.7 925.65h4.6M853.7 925.65h-4.6M69.7 912.55h4.6M853.7 912.55h-4.6M69.7 899.45h9M853.7 899.45h-9M69.7 886.36h4.6M853.7 886.36h-4.6M69.7 873.26h4.6M853.7 873.26h-4.6M69.7 860.17h4.6M853.7 860.17h-4.6M69.7 847.07h9M853.7 847.07h-9M69.7 833.98h4.6M853.7 833.98h-4.6M69.7 820.88h4.6M853.7 820.88h-4.6M69.7 807.79h4.6M853.7 807.79h-4.6M69.7 794.69h9M853.7 794.69h-9M69.7 781.6h4.6M853.7 781.6h-4.6" stroke="#1c1c1c" stroke-width="1.1" fill="none"/>
<rect x="69.7" y="768.5" width="784" height="288.1" fill="none" stroke="#1c1c1c" stroke-width="1.3"/>
<path d="M633.87 999.1v-2.6M633.87 904.9v2.6M641.84 999.1v-2.6M641.84 904.9v2.6M649.8 999.1v-2.6M649.8 904.9v2.6M657.77 999.1v-2.6M657.77 904.9v2.6M665.74 999.1v-5.2M665.74 904.9v5.2M673.71 999.1v-2.6M673.71 904.9v2.6M681.68 999.1v-2.6M681.68 904.9v2.6M689.64 999.1v-2.6M689.64 904.9v2.6M697.61 999.1v-2.6M697.61 904.9v2.6M705.58 999.1v-5.2M705.58 904.9v5.2M713.55 999.1v-2.6M713.55 904.9v2.6M721.52 999.1v-2.6M721.52 904.9v2.6M729.48 999.1v-2.6M729.48 904.9v2.6M737.45 999.1v-2.6M737.45 904.9v2.6M745.42 999.1v-5.2M745.42 904.9v5.2M753.39 999.1v-2.6M753.39 904.9v2.6M761.36 999.1v-2.6M761.36 904.9v2.6M769.32 999.1v-2.6M769.32 904.9v2.6M777.29 999.1v-2.6M777.29 904.9v2.6M785.26 999.1v-5.2M785.26 904.9v5.2M793.23 999.1v-2.6M793.23 904.9v2.6M801.2 999.1v-2.6M801.2 904.9v2.6M809.16 999.1v-2.6M809.16 904.9v2.6M817.13 999.1v-2.6M817.13 904.9v2.6M625.9 994.39h2.6M825.1 994.39h-2.6M625.9 989.68h2.6M825.1 989.68h-2.6M625.9 984.97h2.6M825.1 984.97h-2.6M625.9 980.26h2.6M825.1 980.26h-2.6M625.9 975.55h2.6M825.1 975.55h-2.6M625.9 970.84h2.6M825.1 970.84h-2.6M625.9 966.13h2.6M825.1 966.13h-2.6M625.9 961.42h2.6M825.1 961.42h-2.6M625.9 956.71h2.6M825.1 956.71h-2.6M625.9 952h5.2M825.1 952h-5.2M625.9 947.29h2.6M825.1 947.29h-2.6M625.9 942.58h2.6M825.1 942.58h-2.6M625.9 937.87h2.6M825.1 937.87h-2.6M625.9 933.16h2.6M825.1 933.16h-2.6M625.9 928.45h2.6M825.1 928.45h-2.6M625.9 923.74h2.6M825.1 923.74h-2.6M625.9 919.03h2.6M825.1 919.03h-2.6M625.9 914.32h2.6M825.1 914.32h-2.6M625.9 909.61h2.6M825.1 909.61h-2.6" stroke="#1c1c1c" stroke-width="1.0" fill="none"/>
<rect x="625.9" y="904.9" width="199.2" height="94.2" fill="none" stroke="#1c1c1c" stroke-width="1.2"/>
<path d="M625.9 928.45L635.86 966.13L645.82 979.32L665.74 987.8L705.58 988.74L785.26 987.8" fill="none" stroke="#000" stroke-width="1.1"/>
<circle cx="625.9" cy="928.45" r="2.3" fill="#000"/>
<circle cx="635.86" cy="966.13" r="2.3" fill="#000"/>
<circle cx="645.82" cy="979.32" r="2.3" fill="#000"/>
<circle cx="665.74" cy="987.8" r="2.3" fill="#000"/>
<circle cx="705.58" cy="988.74" r="2.3" fill="#000"/>
<circle cx="785.26" cy="987.8" r="2.3" fill="#000"/>
<text class="sf" x="58.7" y="318.2" font-size="16.5" textLength="22" lengthAdjust="spacingAndGlyphs" fill="#1c1c1c">70</text>
<text class="sf" x="222.03" y="318.2" font-size="16.5" textLength="22" lengthAdjust="spacingAndGlyphs" fill="#1c1c1c">75</text>
<text class="sf" x="385.37" y="318.2" font-size="16.5" textLength="22" lengthAdjust="spacingAndGlyphs" fill="#1c1c1c">80</text>
<text class="sf" x="548.7" y="318.2" font-size="16.5" textLength="22" lengthAdjust="spacingAndGlyphs" fill="#1c1c1c">85</text>
<text class="sf" x="712.03" y="318.2" font-size="16.5" textLength="22" lengthAdjust="spacingAndGlyphs" fill="#1c1c1c">90</text>
<text class="sf" x="50.7" y="301.2" font-size="16.5" textLength="11.4" lengthAdjust="spacingAndGlyphs" fill="#1c1c1c">0</text>
<text class="sf" x="50.7" y="205.27" font-size="16.5" textLength="11.4" lengthAdjust="spacingAndGlyphs" fill="#1c1c1c">2</text>
<text class="sf" x="50.7" y="109.33" font-size="16.5" textLength="11.4" lengthAdjust="spacingAndGlyphs" fill="#1c1c1c">4</text>
<text class="sf" x="50.7" y="13.4" font-size="16.5" textLength="11.4" lengthAdjust="spacingAndGlyphs" fill="#1c1c1c">6</text>
<text class="sf" x="64" y="699.6" font-size="16.5" textLength="11.4" lengthAdjust="spacingAndGlyphs" fill="#1c1c1c">2</text>
<text class="sf" x="212.8" y="699.6" font-size="16.5" textLength="27.4" lengthAdjust="spacingAndGlyphs" fill="#1c1c1c">2.1</text>
<text class="sf" x="369.6" y="699.6" font-size="16.5" textLength="27.4" lengthAdjust="spacingAndGlyphs" fill="#1c1c1c">2.2</text>
<text class="sf" x="526.4" y="699.6" font-size="16.5" textLength="27.4" lengthAdjust="spacingAndGlyphs" fill="#1c1c1c">2.3</text>
<text class="sf" x="683.2" y="699.6" font-size="16.5" textLength="27.4" lengthAdjust="spacingAndGlyphs" fill="#1c1c1c">2.4</text>
<text class="sf" x="840" y="699.6" font-size="16.5" textLength="27.4" lengthAdjust="spacingAndGlyphs" fill="#1c1c1c">2.5</text>
<text class="sf" x="50.7" y="682.05" font-size="16.5" textLength="11.4" lengthAdjust="spacingAndGlyphs" fill="#1c1c1c">0</text>
<text class="sf" x="50.7" y="585.93" font-size="16.5" textLength="11.4" lengthAdjust="spacingAndGlyphs" fill="#1c1c1c">2</text>
<text class="sf" x="50.7" y="489.82" font-size="16.5" textLength="11.4" lengthAdjust="spacingAndGlyphs" fill="#1c1c1c">4</text>
<text class="sf" x="50.7" y="393.7" font-size="16.5" textLength="11.4" lengthAdjust="spacingAndGlyphs" fill="#1c1c1c">6</text>
<text class="sf" x="56" y="1080.2" font-size="16.5" textLength="27.4" lengthAdjust="spacingAndGlyphs" fill="#1c1c1c">2.8</text>
<text class="sf" x="260" y="1080.2" font-size="16.5" textLength="11.4" lengthAdjust="spacingAndGlyphs" fill="#1c1c1c">3</text>
<text class="sf" x="448" y="1080.2" font-size="16.5" textLength="27.4" lengthAdjust="spacingAndGlyphs" fill="#1c1c1c">3.2</text>
<text class="sf" x="644" y="1080.2" font-size="16.5" textLength="27.4" lengthAdjust="spacingAndGlyphs" fill="#1c1c1c">3.4</text>
<text class="sf" x="840" y="1080.2" font-size="16.5" textLength="27.4" lengthAdjust="spacingAndGlyphs" fill="#1c1c1c">3.6</text>
<text class="sf" x="50.7" y="1062.6" font-size="16.5" textLength="11.4" lengthAdjust="spacingAndGlyphs" fill="#1c1c1c">0</text>
<text class="sf" x="33.7" y="1010.22" font-size="16.5" textLength="27.8" lengthAdjust="spacingAndGlyphs" fill="#1c1c1c">0.2</text>
<text class="sf" x="33.7" y="957.84" font-size="16.5" textLength="27.8" lengthAdjust="spacingAndGlyphs" fill="#1c1c1c">0.4</text>
<text class="sf" x="33.7" y="905.45" font-size="16.5" textLength="27.8" lengthAdjust="spacingAndGlyphs" fill="#1c1c1c">0.6</text>
<text class="sf" x="33.7" y="853.07" font-size="16.5" textLength="27.8" lengthAdjust="spacingAndGlyphs" fill="#1c1c1c">0.8</text>
<text class="sf" x="50.7" y="800.69" font-size="16.5" textLength="11.4" lengthAdjust="spacingAndGlyphs" fill="#1c1c1c">1</text>
<text class="sf" x="94.3" y="41" font-size="16.7" textLength="89.7" lengthAdjust="spacingAndGlyphs" fill="#1c1c1c">Minimum</text>
<text class="sf" x="196.2" y="41" font-size="16.7" textLength="62.2" lengthAdjust="spacingAndGlyphs" fill="#1c1c1c">Period</text>
<text class="sf" x="94.3" y="421" font-size="16.7" textLength="54.7" lengthAdjust="spacingAndGlyphs" fill="#1c1c1c">Lower</text>
<text class="sf" x="161.7" y="421" font-size="16.7" textLength="44.4" lengthAdjust="spacingAndGlyphs" fill="#1c1c1c">Edge</text>
<text class="sf" x="218.1" y="421" font-size="16.7" textLength="16.6" lengthAdjust="spacingAndGlyphs" fill="#1c1c1c">of</text>
<text class="sf" x="94.3" y="450.2" font-size="16.7" textLength="61.7" lengthAdjust="spacingAndGlyphs" fill="#1c1c1c">Period</text>
<text class="sf" x="168.6" y="450.2" font-size="16.7" textLength="35.7" lengthAdjust="spacingAndGlyphs" fill="#1c1c1c">Gap</text>
<text class="sf" x="94.3" y="801" font-size="16.7" textLength="57.2" lengthAdjust="spacingAndGlyphs" fill="#1c1c1c">Upper</text>
<text class="sf" x="164.2" y="801" font-size="16.7" textLength="44.4" lengthAdjust="spacingAndGlyphs" fill="#1c1c1c">Edge</text>
<text class="sf" x="220.6" y="801" font-size="16.7" textLength="16.6" lengthAdjust="spacingAndGlyphs" fill="#1c1c1c">of</text>
<text class="sf" x="94.3" y="830.2" font-size="16.7" textLength="61.7" lengthAdjust="spacingAndGlyphs" fill="#1c1c1c">Period</text>
<text class="sf" x="168.6" y="830.2" font-size="16.7" textLength="35.7" lengthAdjust="spacingAndGlyphs" fill="#1c1c1c">Gap</text>
<text class="sf" x="397.3" y="343.8" font-size="16.7" textLength="11.5" lengthAdjust="spacingAndGlyphs" fill="#1c1c1c">P</text>
<text class="ss" x="409.9" y="349.1" font-size="11.4" textLength="42" lengthAdjust="spacingAndGlyphs" fill="#1c1c1c">bounce</text>
<text class="sf" x="463.3" y="343.8" font-size="16.7" textLength="63" lengthAdjust="spacingAndGlyphs" fill="#1c1c1c">(mins)</text>
<text class="sf" x="409.9" y="724.8" font-size="16.7" textLength="11.5" lengthAdjust="spacingAndGlyphs" fill="#1c1c1c">P</text>
<text class="ss" x="422.1" y="730.1" font-size="11.4" textLength="32" lengthAdjust="spacingAndGlyphs" fill="#1c1c1c">gap,−</text>
<text class="sf" x="467" y="724.8" font-size="16.7" textLength="46.5" lengthAdjust="spacingAndGlyphs" fill="#1c1c1c">(hrs)</text>
<text class="sf" x="409.9" y="1105.5" font-size="16.7" textLength="11.5" lengthAdjust="spacingAndGlyphs" fill="#1c1c1c">P</text>
<text class="ss" x="422.1" y="1111.2" font-size="11.4" textLength="32" lengthAdjust="spacingAndGlyphs" fill="#1c1c1c">gap,+</text>
<text class="sf" x="467" y="1105.5" font-size="16.7" textLength="46.5" lengthAdjust="spacingAndGlyphs" fill="#1c1c1c">(hrs)</text>
<text class="sf" x="33.6" y="220.7" font-size="16.7" textLength="8.1" lengthAdjust="spacingAndGlyphs" transform="rotate(-90 33.6 220.7)" fill="#1c1c1c">f</text>
<text class="ss" x="40.6" y="211" font-size="12.6" textLength="12.8" lengthAdjust="spacingAndGlyphs" transform="rotate(-90 40.6 211)" fill="#1c1c1c">GR</text>
<text class="sf" x="33.6" y="185.7" font-size="16.7" textLength="9.9" lengthAdjust="spacingAndGlyphs" transform="rotate(-90 33.6 185.7)" fill="#1c1c1c">=</text>
<text class="sf" x="31.7" y="163.4" font-size="16.7" textLength="8" lengthAdjust="spacingAndGlyphs" transform="rotate(-90 31.7 163.4)" fill="#1c1c1c">J̇</text>
<text class="ss" x="40.6" y="154.6" font-size="11.4" textLength="19.1" lengthAdjust="spacingAndGlyphs" transform="rotate(-90 40.6 154.6)" fill="#1c1c1c">sys</text>
<text class="sf" x="28.8" y="120.5" dy="0.315em" font-size="20.5" text-anchor="middle" fill="#1c1c1c" transform="rotate(-79 28.8 120.5)">/</text>
<text class="sf" x="31.7" y="104.7" font-size="16.7" textLength="7.9" lengthAdjust="spacingAndGlyphs" transform="rotate(-90 31.7 104.7)" fill="#1c1c1c">J̇</text>
<text class="ss" x="40.6" y="95.7" font-size="12.6" textLength="18.5" lengthAdjust="spacingAndGlyphs" transform="rotate(-90 40.6 95.7)" fill="#1c1c1c">GR</text>
<text class="sf" x="33.6" y="604.3" font-size="16.7" textLength="8.1" lengthAdjust="spacingAndGlyphs" transform="rotate(-90 33.6 604.3)" fill="#1c1c1c">f</text>
<text class="ss" x="40.6" y="594.6" font-size="12.6" textLength="12.8" lengthAdjust="spacingAndGlyphs" transform="rotate(-90 40.6 594.6)" fill="#1c1c1c">GR</text>
<text class="sf" x="33.6" y="569.3" font-size="16.7" textLength="9.9" lengthAdjust="spacingAndGlyphs" transform="rotate(-90 33.6 569.3)" fill="#1c1c1c">=</text>
<text class="sf" x="31.7" y="547" font-size="16.7" textLength="8" lengthAdjust="spacingAndGlyphs" transform="rotate(-90 31.7 547)" fill="#1c1c1c">J̇</text>
<text class="ss" x="40.6" y="538.2" font-size="11.4" textLength="19.1" lengthAdjust="spacingAndGlyphs" transform="rotate(-90 40.6 538.2)" fill="#1c1c1c">sys</text>
<text class="sf" x="28.8" y="504.1" dy="0.315em" font-size="20.5" text-anchor="middle" fill="#1c1c1c" transform="rotate(-79 28.8 504.1)">/</text>
<text class="sf" x="31.7" y="488.3" font-size="16.7" textLength="7.9" lengthAdjust="spacingAndGlyphs" transform="rotate(-90 31.7 488.3)" fill="#1c1c1c">J̇</text>
<text class="ss" x="40.6" y="479.3" font-size="12.6" textLength="18.5" lengthAdjust="spacingAndGlyphs" transform="rotate(-90 40.6 479.3)" fill="#1c1c1c">RVJ</text>
<text class="sf" x="16.8" y="984.3" font-size="16.7" textLength="8.1" lengthAdjust="spacingAndGlyphs" transform="rotate(-90 16.8 984.3)" fill="#1c1c1c">f</text>
<text class="ss" x="23.6" y="977.5" font-size="12.6" textLength="15.7" lengthAdjust="spacingAndGlyphs" transform="rotate(-90 23.6 977.5)" fill="#1c1c1c">MB</text>
<text class="sf" x="16.8" y="949.3" font-size="16.7" textLength="9.9" lengthAdjust="spacingAndGlyphs" transform="rotate(-90 16.8 949.3)" fill="#1c1c1c">=</text>
<text class="sf" x="14.9" y="927" font-size="16.7" textLength="8" lengthAdjust="spacingAndGlyphs" transform="rotate(-90 14.9 927)" fill="#1c1c1c">J̇</text>
<text class="ss" x="23.6" y="918.2" font-size="11.4" textLength="19.1" lengthAdjust="spacingAndGlyphs" transform="rotate(-90 23.6 918.2)" fill="#1c1c1c">sys</text>
<text class="sf" x="12" y="884.1" dy="0.315em" font-size="20.5" text-anchor="middle" fill="#1c1c1c" transform="rotate(-79 12 884.1)">/</text>
<text class="sf" x="14.9" y="868.3" font-size="16.7" textLength="7.9" lengthAdjust="spacingAndGlyphs" transform="rotate(-90 14.9 868.3)" fill="#1c1c1c">J̇</text>
<text class="ss" x="23.6" y="859.3" font-size="12.6" textLength="18.5" lengthAdjust="spacingAndGlyphs" transform="rotate(-90 23.6 859.3)" fill="#1c1c1c">RVJ</text>
<text class="sf" x="427.2" y="639.2" font-size="16.7" textLength="184.8" lengthAdjust="spacingAndGlyphs" transform="rotate(-90 427.2 639.2)" fill="#1c1c1c">Emergence from Gap</text>
<text class="sf" x="483.6" y="654.2" font-size="16.7" textLength="231" lengthAdjust="spacingAndGlyphs" transform="rotate(-66 483.6 654.2)" fill="#1c1c1c">Upper Edge of Period Flag</text>
<text class="sf" x="621.2" y="1019.5" font-size="14.3" textLength="9.4" lengthAdjust="spacingAndGlyphs" fill="#1c1c1c">0</text>
<text class="sf" x="661.04" y="1019.5" font-size="14.3" textLength="9.4" lengthAdjust="spacingAndGlyphs" fill="#1c1c1c">1</text>
<text class="sf" x="700.88" y="1019.5" font-size="14.3" textLength="9.4" lengthAdjust="spacingAndGlyphs" fill="#1c1c1c">2</text>
<text class="sf" x="740.72" y="1019.5" font-size="14.3" textLength="9.4" lengthAdjust="spacingAndGlyphs" fill="#1c1c1c">3</text>
<text class="sf" x="780.56" y="1019.5" font-size="14.3" textLength="9.4" lengthAdjust="spacingAndGlyphs" fill="#1c1c1c">4</text>
<text class="sf" x="820.4" y="1019.5" font-size="14.3" textLength="9.4" lengthAdjust="spacingAndGlyphs" fill="#1c1c1c">5</text>
<text class="sf" x="594.8" y="1004.4" font-size="14.3" textLength="25.8" lengthAdjust="spacingAndGlyphs" fill="#1c1c1c">0.2</text>
<text class="sf" x="594.8" y="957.3" font-size="14.3" textLength="25.8" lengthAdjust="spacingAndGlyphs" fill="#1c1c1c">0.3</text>
<text class="sf" x="594.8" y="910.2" font-size="14.3" textLength="25.8" lengthAdjust="spacingAndGlyphs" fill="#1c1c1c">0.4</text>
<text class="sf" x="715.5" y="1045" font-size="14.3" textLength="6" lengthAdjust="spacingAndGlyphs" fill="#1c1c1c">f</text>
<text class="ss" x="722.5" y="1049.5" font-size="9.8" textLength="13.8" lengthAdjust="spacingAndGlyphs" fill="#1c1c1c" style="stroke-width:0.3px">MB</text>
<text class="sf" x="579" y="978" font-size="14.3" textLength="13" lengthAdjust="spacingAndGlyphs" transform="rotate(-90 579 978)" fill="#1c1c1c">M</text>
<text class="ss" x="583.8" y="964.8" font-size="10.2" textLength="41" lengthAdjust="spacingAndGlyphs" transform="rotate(-90 583.8 964.8)" fill="#1c1c1c" style="stroke-width:0.3px">conv,th</text>
</svg></body></html>
